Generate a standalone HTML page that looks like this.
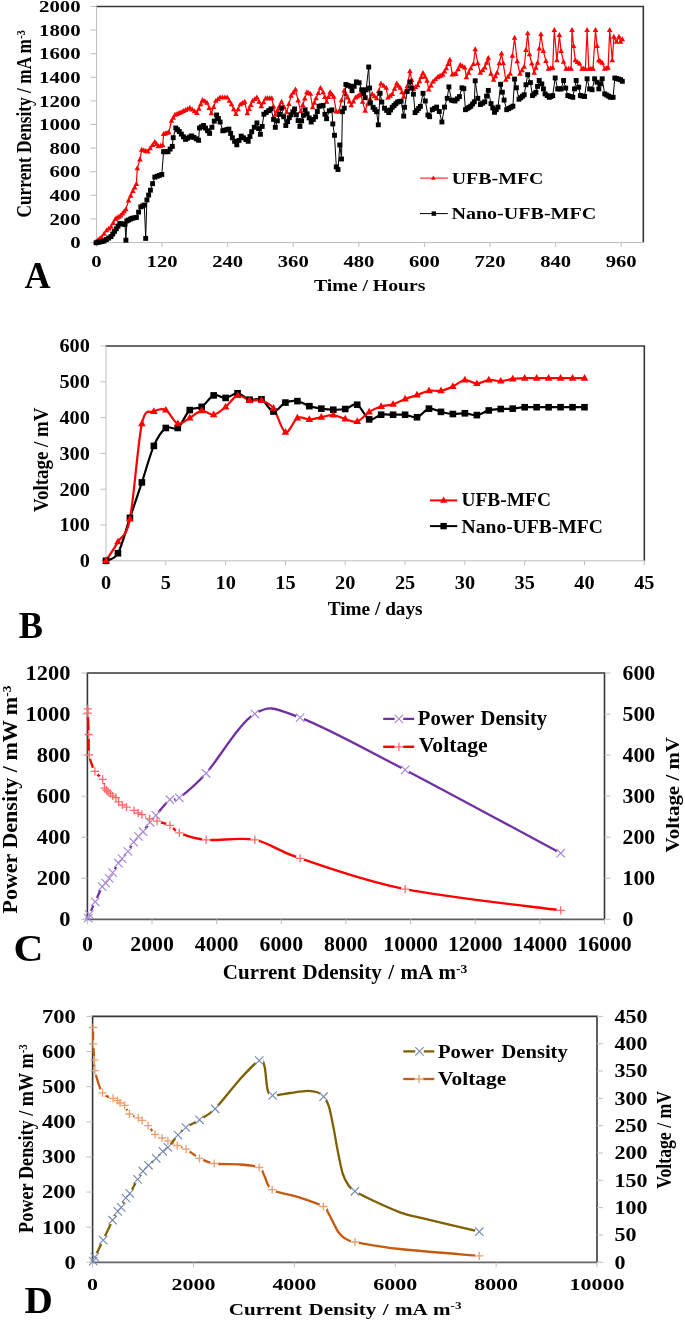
<!DOCTYPE html>
<html><head><meta charset="utf-8"><title>Figure</title>
<style>html,body{margin:0;padding:0;background:#fff;}svg{display:block;}text{font-family:'Liberation Serif', 'Times New Roman', serif;font-weight:bold;}</style>
</head><body>
<svg width="685" height="1320" viewBox="0 0 685 1320">
<defs><mask id="mPC" maskUnits="userSpaceOnUse" x="0" y="0" width="685" height="1320"><rect width="685" height="1320" fill="#fff"/><circle cx="88.2" cy="918.1" r="4.2" fill="#000"/><circle cx="89.3" cy="914.6" r="4.2" fill="#000"/><circle cx="95.2" cy="901.8" r="4.2" fill="#000"/><circle cx="102.2" cy="886.6" r="4.2" fill="#000"/><circle cx="105.7" cy="883.1" r="4.2" fill="#000"/><circle cx="109.2" cy="878.4" r="4.2" fill="#000"/><circle cx="112.7" cy="872.6" r="4.2" fill="#000"/><circle cx="118.5" cy="863.2" r="4.2" fill="#000"/><circle cx="122" cy="858.6" r="4.2" fill="#000"/><circle cx="127.9" cy="851.5" r="4.2" fill="#000"/><circle cx="133.7" cy="842.2" r="4.2" fill="#000"/><circle cx="138.4" cy="836.4" r="4.2" fill="#000"/><circle cx="143.1" cy="831.7" r="4.2" fill="#000"/><circle cx="150.1" cy="822.3" r="4.2" fill="#000"/><circle cx="155.9" cy="815.3" r="4.2" fill="#000"/><circle cx="169.9" cy="799.7" r="4.2" fill="#000"/><circle cx="179.3" cy="797.8" r="4.2" fill="#000"/><circle cx="206.1" cy="773.3" r="4.2" fill="#000"/><circle cx="254.8" cy="713.8" r="4.2" fill="#000"/><circle cx="300.1" cy="717.6" r="4.2" fill="#000"/><circle cx="405.2" cy="769.9" r="4.2" fill="#000"/><circle cx="560.7" cy="853.2" r="4.2" fill="#000"/></mask><mask id="mRC" maskUnits="userSpaceOnUse" x="0" y="0" width="685" height="1320"><rect width="685" height="1320" fill="#fff"/><circle cx="87.8" cy="708.9" r="4.2" fill="#000"/><circle cx="87.8" cy="713.1" r="4.2" fill="#000"/><circle cx="88.6" cy="734.5" r="4.2" fill="#000"/><circle cx="89.2" cy="754.9" r="4.2" fill="#000"/><circle cx="94.9" cy="771.4" r="4.2" fill="#000"/><circle cx="102.7" cy="779.3" r="4.2" fill="#000"/><circle cx="104.5" cy="788.1" r="4.2" fill="#000"/><circle cx="106.4" cy="790.2" r="4.2" fill="#000"/><circle cx="108" cy="791.8" r="4.2" fill="#000"/><circle cx="110.4" cy="793.7" r="4.2" fill="#000"/><circle cx="112.7" cy="796" r="4.2" fill="#000"/><circle cx="115.9" cy="797.6" r="4.2" fill="#000"/><circle cx="118.6" cy="801.8" r="4.2" fill="#000"/><circle cx="122.3" cy="805" r="4.2" fill="#000"/><circle cx="126.5" cy="807.1" r="4.2" fill="#000"/><circle cx="134" cy="810.3" r="4.2" fill="#000"/><circle cx="138.2" cy="813" r="4.2" fill="#000"/><circle cx="141.9" cy="814.6" r="4.2" fill="#000"/><circle cx="149.6" cy="818.8" r="4.2" fill="#000"/><circle cx="157.1" cy="821.2" r="4.2" fill="#000"/><circle cx="169.9" cy="825.4" r="4.2" fill="#000"/><circle cx="179.3" cy="832.9" r="4.2" fill="#000"/><circle cx="206.1" cy="839.9" r="4.2" fill="#000"/><circle cx="254.8" cy="839.9" r="4.2" fill="#000"/><circle cx="300.1" cy="858.3" r="4.2" fill="#000"/><circle cx="405.2" cy="889.1" r="4.2" fill="#000"/><circle cx="560.7" cy="910.3" r="4.2" fill="#000"/></mask><mask id="mPD" maskUnits="userSpaceOnUse" x="0" y="0" width="685" height="1320"><rect width="685" height="1320" fill="#fff"/><circle cx="93.2" cy="1261.1" r="4.4" fill="#000"/><circle cx="94.8" cy="1257.1" r="4.4" fill="#000"/><circle cx="103.2" cy="1240.1" r="4.4" fill="#000"/><circle cx="112.6" cy="1220.2" r="4.4" fill="#000"/><circle cx="117.7" cy="1211.4" r="4.4" fill="#000"/><circle cx="121.2" cy="1207.4" r="4.4" fill="#000"/><circle cx="125.9" cy="1198" r="4.4" fill="#000"/><circle cx="129.8" cy="1193.4" r="4.4" fill="#000"/><circle cx="137.6" cy="1179.4" r="4.4" fill="#000"/><circle cx="142.9" cy="1171.2" r="4.4" fill="#000"/><circle cx="148.5" cy="1165.3" r="4.4" fill="#000"/><circle cx="156.2" cy="1158.3" r="4.4" fill="#000"/><circle cx="162.8" cy="1151.3" r="4.4" fill="#000"/><circle cx="167.9" cy="1147.4" r="4.4" fill="#000"/><circle cx="178" cy="1135" r="4.4" fill="#000"/><circle cx="185.9" cy="1127.5" r="4.4" fill="#000"/><circle cx="199.5" cy="1119.8" r="4.4" fill="#000"/><circle cx="215.1" cy="1108.8" r="4.4" fill="#000"/><circle cx="259.2" cy="1060.5" r="4.4" fill="#000"/><circle cx="272.7" cy="1095.5" r="4.4" fill="#000"/><circle cx="323.6" cy="1096.7" r="4.4" fill="#000"/><circle cx="354.9" cy="1191.3" r="4.4" fill="#000"/><circle cx="479.3" cy="1231.7" r="4.4" fill="#000"/></mask><mask id="mVD" maskUnits="userSpaceOnUse" x="0" y="0" width="685" height="1320"><rect width="685" height="1320" fill="#fff"/><circle cx="93.2" cy="1027.5" r="4.2" fill="#000"/><circle cx="93.2" cy="1043.9" r="4.2" fill="#000"/><circle cx="94.3" cy="1060.2" r="4.2" fill="#000"/><circle cx="94.8" cy="1070.7" r="4.2" fill="#000"/><circle cx="102.5" cy="1092.9" r="4.2" fill="#000"/><circle cx="113" cy="1098.3" r="4.2" fill="#000"/><circle cx="117.7" cy="1100.6" r="4.2" fill="#000"/><circle cx="120" cy="1103" r="4.2" fill="#000"/><circle cx="124.7" cy="1105.3" r="4.2" fill="#000"/><circle cx="129.4" cy="1114" r="4.2" fill="#000"/><circle cx="138.3" cy="1117.9" r="4.2" fill="#000"/><circle cx="142.2" cy="1120.3" r="4.2" fill="#000"/><circle cx="148.1" cy="1125.6" r="4.2" fill="#000"/><circle cx="155.1" cy="1134.3" r="4.2" fill="#000"/><circle cx="162.1" cy="1138" r="4.2" fill="#000"/><circle cx="167.9" cy="1140.8" r="4.2" fill="#000"/><circle cx="177.3" cy="1145.5" r="4.2" fill="#000"/><circle cx="186.1" cy="1149.2" r="4.2" fill="#000"/><circle cx="199.5" cy="1158.3" r="4.2" fill="#000"/><circle cx="214.2" cy="1163.5" r="4.2" fill="#000"/><circle cx="259.2" cy="1167.5" r="4.2" fill="#000"/><circle cx="272.2" cy="1189.7" r="4.2" fill="#000"/><circle cx="323.4" cy="1206.5" r="4.2" fill="#000"/><circle cx="354.9" cy="1242" r="4.2" fill="#000"/><circle cx="479.3" cy="1255.8" r="4.2" fill="#000"/></mask></defs>
<rect width="685" height="1320" fill="#fff"/>
<line x1="96" y1="6.5" x2="644.1" y2="6.5" stroke="#383838" stroke-width="1.6"/>
<line x1="643.3" y1="6.5" x2="643.3" y2="242.5" stroke="#383838" stroke-width="1.6"/>
<line x1="96.5" y1="6.5" x2="96.5" y2="242.5" stroke="#BFBFBF" stroke-width="1"/>
<line x1="96.5" y1="242.5" x2="643.3" y2="242.5" stroke="#BFBFBF" stroke-width="1"/>
<line x1="90.5" y1="242.5" x2="96.5" y2="242.5" stroke="#BFBFBF" stroke-width="1"/>
<text transform="translate(80.6,248.1) scale(1.2900,1)" font-size="16.1" text-anchor="end" fill="#000">0</text>
<line x1="90.5" y1="218.9" x2="96.5" y2="218.9" stroke="#BFBFBF" stroke-width="1"/>
<text transform="translate(80.6,224.5) scale(1.2900,1)" font-size="16.1" text-anchor="end" fill="#000">200</text>
<line x1="90.5" y1="195.3" x2="96.5" y2="195.3" stroke="#BFBFBF" stroke-width="1"/>
<text transform="translate(80.6,200.9) scale(1.2900,1)" font-size="16.1" text-anchor="end" fill="#000">400</text>
<line x1="90.5" y1="171.7" x2="96.5" y2="171.7" stroke="#BFBFBF" stroke-width="1"/>
<text transform="translate(80.6,177.3) scale(1.2900,1)" font-size="16.1" text-anchor="end" fill="#000">600</text>
<line x1="90.5" y1="148.1" x2="96.5" y2="148.1" stroke="#BFBFBF" stroke-width="1"/>
<text transform="translate(80.6,153.7) scale(1.2900,1)" font-size="16.1" text-anchor="end" fill="#000">800</text>
<line x1="90.5" y1="124.5" x2="96.5" y2="124.5" stroke="#BFBFBF" stroke-width="1"/>
<text transform="translate(80.6,130.1) scale(1.2900,1)" font-size="16.1" text-anchor="end" fill="#000">1000</text>
<line x1="90.5" y1="100.9" x2="96.5" y2="100.9" stroke="#BFBFBF" stroke-width="1"/>
<text transform="translate(80.6,106.5) scale(1.2900,1)" font-size="16.1" text-anchor="end" fill="#000">1200</text>
<line x1="90.5" y1="77.3" x2="96.5" y2="77.3" stroke="#BFBFBF" stroke-width="1"/>
<text transform="translate(80.6,82.9) scale(1.2900,1)" font-size="16.1" text-anchor="end" fill="#000">1400</text>
<line x1="90.5" y1="53.7" x2="96.5" y2="53.7" stroke="#BFBFBF" stroke-width="1"/>
<text transform="translate(80.6,59.3) scale(1.2900,1)" font-size="16.1" text-anchor="end" fill="#000">1600</text>
<line x1="90.5" y1="30.1" x2="96.5" y2="30.1" stroke="#BFBFBF" stroke-width="1"/>
<text transform="translate(80.6,35.7) scale(1.2900,1)" font-size="16.1" text-anchor="end" fill="#000">1800</text>
<line x1="90.5" y1="6.5" x2="96.5" y2="6.5" stroke="#BFBFBF" stroke-width="1"/>
<text transform="translate(80.6,12.1) scale(1.2900,1)" font-size="16.1" text-anchor="end" fill="#000">2000</text>
<line x1="96.5" y1="242.5" x2="96.5" y2="247" stroke="#BFBFBF" stroke-width="1"/>
<text transform="translate(96.5,267.4) scale(1.2900,1)" font-size="16" text-anchor="middle" fill="#000">0</text>
<line x1="162.09" y1="242.5" x2="162.09" y2="247" stroke="#BFBFBF" stroke-width="1"/>
<text transform="translate(162.09,267.4) scale(1.2900,1)" font-size="16" text-anchor="middle" fill="#000">120</text>
<line x1="227.68" y1="242.5" x2="227.68" y2="247" stroke="#BFBFBF" stroke-width="1"/>
<text transform="translate(227.68,267.4) scale(1.2900,1)" font-size="16" text-anchor="middle" fill="#000">240</text>
<line x1="293.27" y1="242.5" x2="293.27" y2="247" stroke="#BFBFBF" stroke-width="1"/>
<text transform="translate(293.27,267.4) scale(1.2900,1)" font-size="16" text-anchor="middle" fill="#000">360</text>
<line x1="358.86" y1="242.5" x2="358.86" y2="247" stroke="#BFBFBF" stroke-width="1"/>
<text transform="translate(358.86,267.4) scale(1.2900,1)" font-size="16" text-anchor="middle" fill="#000">480</text>
<line x1="424.45" y1="242.5" x2="424.45" y2="247" stroke="#BFBFBF" stroke-width="1"/>
<text transform="translate(424.45,267.4) scale(1.2900,1)" font-size="16" text-anchor="middle" fill="#000">600</text>
<line x1="490.04" y1="242.5" x2="490.04" y2="247" stroke="#BFBFBF" stroke-width="1"/>
<text transform="translate(490.04,267.4) scale(1.2900,1)" font-size="16" text-anchor="middle" fill="#000">720</text>
<line x1="555.63" y1="242.5" x2="555.63" y2="247" stroke="#BFBFBF" stroke-width="1"/>
<text transform="translate(555.63,267.4) scale(1.2900,1)" font-size="16" text-anchor="middle" fill="#000">840</text>
<line x1="621.22" y1="242.5" x2="621.22" y2="247" stroke="#BFBFBF" stroke-width="1"/>
<text transform="translate(621.22,267.4) scale(1.2900,1)" font-size="16" text-anchor="middle" fill="#000">960</text>
<text transform="translate(314,291.2) scale(1.1410,1)" font-size="17.3" text-anchor="start" fill="#000">Time / Hours</text>
<text transform="translate(30.8,217.5) rotate(-90) scale(0.8400,1)" font-size="20.6" text-anchor="start" fill="#000">Current Density / mA m<tspan font-size="12.6" dy="-6.2">-3</tspan></text>
<text transform="translate(24.5,287.7) scale(0.9700,1)" font-size="37.2" text-anchor="start" fill="#000">A</text>
<polyline points="96.1,241.9 101.4,237.5 106.6,230.5 111,227 115.4,219.1 120.7,215.6 125.9,209.5 128.5,200.7 132.9,191.1 136.4,184.1 137.3,168.3 139.9,159.6 141.7,149.9 147.8,151.7 154.8,142 158.3,146.4 162.7,145.5 163.6,134.2 168.8,132.4 171.5,121 175,114.9 181.1,112.3 189.9,107.9 196.9,113.1 202.6,100.1 207,102.8 211.4,113.3 215.8,101 220.1,97.5 227.2,97.5 231.5,104.5 235.9,114.2 240.3,104.5 244.7,101.9 247.3,113.3 252.6,101 256.9,97.5 261.3,106.3 265.7,98.4 271.8,98.4 275.3,115 281.5,101.9 286.7,112.4 291.1,95.8 295.5,89.6 300.7,111.5 306.9,92.3 310.4,94 312.6,107.3 316.1,98.5 320.5,88 323.1,92.4 326.6,102 330.1,92.4 333.7,96.8 336.3,111.7 338.9,111.7 341.5,100.3 344.2,90.7 347.7,97.7 351.2,105.5 355.5,97.7 360.8,94.2 362.6,102 365.2,110.8 367.8,103.8 372.2,94.2 376.6,98.5 381,83.7 386.2,88 388,97.7 392.3,94.2 396.7,83.7 400.2,88 403.7,96.8 407.2,86.3 409.9,71.4 413.4,88.9 417.7,85.4 423,73.1 427,80.8 428.8,89.6 433.1,81.7 437.5,77.3 442.8,74.7 446.3,68.5 449.8,59.8 452.4,74.7 455.9,73.8 460.3,65 464.7,67.7 466.4,77.3 470.8,68.5 473.4,64.2 475.2,49.3 477.8,63.3 480.4,72.9 484.8,67.7 488.3,58 491,73.8 493.6,79.9 497.1,72.9 501.5,53.7 503.2,63.3 505.8,79.9 510.2,73.8 514.6,37.9 517.2,61.5 519.9,73.8 524.2,66.8 527.7,33.5 529.5,54.5 534.2,73 537.6,62.9 540.9,34.3 543.4,51.1 545.9,61.2 548.5,68.8 552.7,67.9 554.3,30.1 556.9,60.4 559.4,35.2 561.1,51.1 563.6,62 566.1,68.8 571.1,68.8 572,30.1 573.6,46.1 575.3,60.4 579.5,63.7 582,68.8 585.4,68.8 587.1,30.1 588.8,68.8 593,68.8 595.5,30.1 597.1,46.1 598.8,60.4 602.2,62.9 604.7,68.8 608.1,67.9 609.7,30.1 612.3,60.4 613.9,36.9 616.5,41.9 619,36.9 620.6,41.9 622.3,39.4" fill="none" stroke="#FF0000" stroke-width="1.2" stroke-linejoin="round"/>
<path d="M96.1,238.8 L98.89,243.76 L93.31,243.76Z" fill="#FF0000"/>
<path d="M97.87,237.33 L100.66,242.29 L95.08,242.29Z" fill="#FF0000"/>
<path d="M99.63,235.87 L102.42,240.83 L96.84,240.83Z" fill="#FF0000"/>
<path d="M101.4,234.4 L104.19,239.36 L98.61,239.36Z" fill="#FF0000"/>
<path d="M104,230.9 L106.79,235.86 L101.21,235.86Z" fill="#FF0000"/>
<path d="M106.6,227.4 L109.39,232.36 L103.81,232.36Z" fill="#FF0000"/>
<path d="M108.8,225.65 L111.59,230.61 L106.01,230.61Z" fill="#FF0000"/>
<path d="M111,223.9 L113.79,228.86 L108.21,228.86Z" fill="#FF0000"/>
<path d="M113.2,219.95 L115.99,224.91 L110.41,224.91Z" fill="#FF0000"/>
<path d="M115.4,216 L118.19,220.96 L112.61,220.96Z" fill="#FF0000"/>
<path d="M117.17,214.83 L119.96,219.79 L114.38,219.79Z" fill="#FF0000"/>
<path d="M118.93,213.67 L121.72,218.63 L116.14,218.63Z" fill="#FF0000"/>
<path d="M120.7,212.5 L123.49,217.46 L117.91,217.46Z" fill="#FF0000"/>
<path d="M122.43,210.47 L125.22,215.43 L119.64,215.43Z" fill="#FF0000"/>
<path d="M124.17,208.43 L126.96,213.39 L121.38,213.39Z" fill="#FF0000"/>
<path d="M125.9,206.4 L128.69,211.36 L123.11,211.36Z" fill="#FF0000"/>
<path d="M128.5,197.6 L131.29,202.56 L125.71,202.56Z" fill="#FF0000"/>
<path d="M130.7,192.8 L133.49,197.76 L127.91,197.76Z" fill="#FF0000"/>
<path d="M132.9,188 L135.69,192.96 L130.11,192.96Z" fill="#FF0000"/>
<path d="M134.65,184.5 L137.44,189.46 L131.86,189.46Z" fill="#FF0000"/>
<path d="M136.4,181 L139.19,185.96 L133.61,185.96Z" fill="#FF0000"/>
<path d="M137.3,165.2 L140.09,170.16 L134.51,170.16Z" fill="#FF0000"/>
<path d="M139.9,156.5 L142.69,161.46 L137.11,161.46Z" fill="#FF0000"/>
<path d="M141.7,146.8 L144.49,151.76 L138.91,151.76Z" fill="#FF0000"/>
<path d="M143.73,147.4 L146.52,152.36 L140.94,152.36Z" fill="#FF0000"/>
<path d="M145.77,148 L148.56,152.96 L142.98,152.96Z" fill="#FF0000"/>
<path d="M147.8,148.6 L150.59,153.56 L145.01,153.56Z" fill="#FF0000"/>
<path d="M150.13,145.37 L152.92,150.33 L147.34,150.33Z" fill="#FF0000"/>
<path d="M152.47,142.13 L155.26,147.09 L149.68,147.09Z" fill="#FF0000"/>
<path d="M154.8,138.9 L157.59,143.86 L152.01,143.86Z" fill="#FF0000"/>
<path d="M156.55,141.1 L159.34,146.06 L153.76,146.06Z" fill="#FF0000"/>
<path d="M158.3,143.3 L161.09,148.26 L155.51,148.26Z" fill="#FF0000"/>
<path d="M160.5,142.85 L163.29,147.81 L157.71,147.81Z" fill="#FF0000"/>
<path d="M162.7,142.4 L165.49,147.36 L159.91,147.36Z" fill="#FF0000"/>
<path d="M163.6,131.1 L166.39,136.06 L160.81,136.06Z" fill="#FF0000"/>
<path d="M165.33,130.5 L168.12,135.46 L162.54,135.46Z" fill="#FF0000"/>
<path d="M167.07,129.9 L169.86,134.86 L164.28,134.86Z" fill="#FF0000"/>
<path d="M168.8,129.3 L171.59,134.26 L166.01,134.26Z" fill="#FF0000"/>
<path d="M171.5,117.9 L174.29,122.86 L168.71,122.86Z" fill="#FF0000"/>
<path d="M173.25,114.85 L176.04,119.81 L170.46,119.81Z" fill="#FF0000"/>
<path d="M175,111.8 L177.79,116.76 L172.21,116.76Z" fill="#FF0000"/>
<path d="M177.03,110.93 L179.82,115.89 L174.24,115.89Z" fill="#FF0000"/>
<path d="M179.07,110.07 L181.86,115.03 L176.28,115.03Z" fill="#FF0000"/>
<path d="M181.1,109.2 L183.89,114.16 L178.31,114.16Z" fill="#FF0000"/>
<path d="M183.3,108.1 L186.09,113.06 L180.51,113.06Z" fill="#FF0000"/>
<path d="M185.5,107 L188.29,111.96 L182.71,111.96Z" fill="#FF0000"/>
<path d="M187.7,105.9 L190.49,110.86 L184.91,110.86Z" fill="#FF0000"/>
<path d="M189.9,104.8 L192.69,109.76 L187.11,109.76Z" fill="#FF0000"/>
<path d="M192.23,106.53 L195.02,111.49 L189.44,111.49Z" fill="#FF0000"/>
<path d="M194.57,108.27 L197.36,113.23 L191.78,113.23Z" fill="#FF0000"/>
<path d="M196.9,110 L199.69,114.96 L194.11,114.96Z" fill="#FF0000"/>
<path d="M198.8,105.67 L201.59,110.63 L196.01,110.63Z" fill="#FF0000"/>
<path d="M200.7,101.33 L203.49,106.29 L197.91,106.29Z" fill="#FF0000"/>
<path d="M202.6,97 L205.39,101.96 L199.81,101.96Z" fill="#FF0000"/>
<path d="M204.8,98.35 L207.59,103.31 L202.01,103.31Z" fill="#FF0000"/>
<path d="M207,99.7 L209.79,104.66 L204.21,104.66Z" fill="#FF0000"/>
<path d="M209.2,104.95 L211.99,109.91 L206.41,109.91Z" fill="#FF0000"/>
<path d="M211.4,110.2 L214.19,115.16 L208.61,115.16Z" fill="#FF0000"/>
<path d="M213.6,104.05 L216.39,109.01 L210.81,109.01Z" fill="#FF0000"/>
<path d="M215.8,97.9 L218.59,102.86 L213.01,102.86Z" fill="#FF0000"/>
<path d="M217.95,96.15 L220.74,101.11 L215.16,101.11Z" fill="#FF0000"/>
<path d="M220.1,94.4 L222.89,99.36 L217.31,99.36Z" fill="#FF0000"/>
<path d="M222.47,94.4 L225.26,99.36 L219.68,99.36Z" fill="#FF0000"/>
<path d="M224.83,94.4 L227.62,99.36 L222.04,99.36Z" fill="#FF0000"/>
<path d="M227.2,94.4 L229.99,99.36 L224.41,99.36Z" fill="#FF0000"/>
<path d="M229.35,97.9 L232.14,102.86 L226.56,102.86Z" fill="#FF0000"/>
<path d="M231.5,101.4 L234.29,106.36 L228.71,106.36Z" fill="#FF0000"/>
<path d="M233.7,106.25 L236.49,111.21 L230.91,111.21Z" fill="#FF0000"/>
<path d="M235.9,111.1 L238.69,116.06 L233.11,116.06Z" fill="#FF0000"/>
<path d="M238.1,106.25 L240.89,111.21 L235.31,111.21Z" fill="#FF0000"/>
<path d="M240.3,101.4 L243.09,106.36 L237.51,106.36Z" fill="#FF0000"/>
<path d="M242.5,100.1 L245.29,105.06 L239.71,105.06Z" fill="#FF0000"/>
<path d="M244.7,98.8 L247.49,103.76 L241.91,103.76Z" fill="#FF0000"/>
<path d="M247.3,110.2 L250.09,115.16 L244.51,115.16Z" fill="#FF0000"/>
<path d="M249.07,106.1 L251.86,111.06 L246.28,111.06Z" fill="#FF0000"/>
<path d="M250.83,102 L253.62,106.96 L248.04,106.96Z" fill="#FF0000"/>
<path d="M252.6,97.9 L255.39,102.86 L249.81,102.86Z" fill="#FF0000"/>
<path d="M254.75,96.15 L257.54,101.11 L251.96,101.11Z" fill="#FF0000"/>
<path d="M256.9,94.4 L259.69,99.36 L254.11,99.36Z" fill="#FF0000"/>
<path d="M259.1,98.8 L261.89,103.76 L256.31,103.76Z" fill="#FF0000"/>
<path d="M261.3,103.2 L264.09,108.16 L258.51,108.16Z" fill="#FF0000"/>
<path d="M263.5,99.25 L266.29,104.21 L260.71,104.21Z" fill="#FF0000"/>
<path d="M265.7,95.3 L268.49,100.26 L262.91,100.26Z" fill="#FF0000"/>
<path d="M267.73,95.3 L270.52,100.26 L264.94,100.26Z" fill="#FF0000"/>
<path d="M269.77,95.3 L272.56,100.26 L266.98,100.26Z" fill="#FF0000"/>
<path d="M271.8,95.3 L274.59,100.26 L269.01,100.26Z" fill="#FF0000"/>
<path d="M273.55,103.6 L276.34,108.56 L270.76,108.56Z" fill="#FF0000"/>
<path d="M275.3,111.9 L278.09,116.86 L272.51,116.86Z" fill="#FF0000"/>
<path d="M277.37,107.53 L280.16,112.49 L274.58,112.49Z" fill="#FF0000"/>
<path d="M279.43,103.17 L282.22,108.13 L276.64,108.13Z" fill="#FF0000"/>
<path d="M281.5,98.8 L284.29,103.76 L278.71,103.76Z" fill="#FF0000"/>
<path d="M284.1,104.05 L286.89,109.01 L281.31,109.01Z" fill="#FF0000"/>
<path d="M286.7,109.3 L289.49,114.26 L283.91,114.26Z" fill="#FF0000"/>
<path d="M288.9,101 L291.69,105.96 L286.11,105.96Z" fill="#FF0000"/>
<path d="M291.1,92.7 L293.89,97.66 L288.31,97.66Z" fill="#FF0000"/>
<path d="M293.3,89.6 L296.09,94.56 L290.51,94.56Z" fill="#FF0000"/>
<path d="M295.5,86.5 L298.29,91.46 L292.71,91.46Z" fill="#FF0000"/>
<path d="M298.1,97.45 L300.89,102.41 L295.31,102.41Z" fill="#FF0000"/>
<path d="M300.7,108.4 L303.49,113.36 L297.91,113.36Z" fill="#FF0000"/>
<path d="M302.77,102 L305.56,106.96 L299.98,106.96Z" fill="#FF0000"/>
<path d="M304.83,95.6 L307.62,100.56 L302.04,100.56Z" fill="#FF0000"/>
<path d="M306.9,89.2 L309.69,94.16 L304.11,94.16Z" fill="#FF0000"/>
<path d="M308.65,90.05 L311.44,95.01 L305.86,95.01Z" fill="#FF0000"/>
<path d="M310.4,90.9 L313.19,95.86 L307.61,95.86Z" fill="#FF0000"/>
<path d="M312.6,104.2 L315.39,109.16 L309.81,109.16Z" fill="#FF0000"/>
<path d="M314.35,99.8 L317.14,104.76 L311.56,104.76Z" fill="#FF0000"/>
<path d="M316.1,95.4 L318.89,100.36 L313.31,100.36Z" fill="#FF0000"/>
<path d="M318.3,90.15 L321.09,95.11 L315.51,95.11Z" fill="#FF0000"/>
<path d="M320.5,84.9 L323.29,89.86 L317.71,89.86Z" fill="#FF0000"/>
<path d="M323.1,89.3 L325.89,94.26 L320.31,94.26Z" fill="#FF0000"/>
<path d="M324.85,94.1 L327.64,99.06 L322.06,99.06Z" fill="#FF0000"/>
<path d="M326.6,98.9 L329.39,103.86 L323.81,103.86Z" fill="#FF0000"/>
<path d="M328.35,94.1 L331.14,99.06 L325.56,99.06Z" fill="#FF0000"/>
<path d="M330.1,89.3 L332.89,94.26 L327.31,94.26Z" fill="#FF0000"/>
<path d="M331.9,91.5 L334.69,96.46 L329.11,96.46Z" fill="#FF0000"/>
<path d="M333.7,93.7 L336.49,98.66 L330.91,98.66Z" fill="#FF0000"/>
<path d="M336.3,108.6 L339.09,113.56 L333.51,113.56Z" fill="#FF0000"/>
<path d="M338.9,108.6 L341.69,113.56 L336.11,113.56Z" fill="#FF0000"/>
<path d="M341.5,97.2 L344.29,102.16 L338.71,102.16Z" fill="#FF0000"/>
<path d="M344.2,87.6 L346.99,92.56 L341.41,92.56Z" fill="#FF0000"/>
<path d="M345.95,91.1 L348.74,96.06 L343.16,96.06Z" fill="#FF0000"/>
<path d="M347.7,94.6 L350.49,99.56 L344.91,99.56Z" fill="#FF0000"/>
<path d="M349.45,98.5 L352.24,103.46 L346.66,103.46Z" fill="#FF0000"/>
<path d="M351.2,102.4 L353.99,107.36 L348.41,107.36Z" fill="#FF0000"/>
<path d="M353.35,98.5 L356.14,103.46 L350.56,103.46Z" fill="#FF0000"/>
<path d="M355.5,94.6 L358.29,99.56 L352.71,99.56Z" fill="#FF0000"/>
<path d="M357.27,93.43 L360.06,98.39 L354.48,98.39Z" fill="#FF0000"/>
<path d="M359.03,92.27 L361.82,97.23 L356.24,97.23Z" fill="#FF0000"/>
<path d="M360.8,91.1 L363.59,96.06 L358.01,96.06Z" fill="#FF0000"/>
<path d="M362.6,98.9 L365.39,103.86 L359.81,103.86Z" fill="#FF0000"/>
<path d="M365.2,107.7 L367.99,112.66 L362.41,112.66Z" fill="#FF0000"/>
<path d="M367.8,100.7 L370.59,105.66 L365.01,105.66Z" fill="#FF0000"/>
<path d="M370,95.9 L372.79,100.86 L367.21,100.86Z" fill="#FF0000"/>
<path d="M372.2,91.1 L374.99,96.06 L369.41,96.06Z" fill="#FF0000"/>
<path d="M374.4,93.25 L377.19,98.21 L371.61,98.21Z" fill="#FF0000"/>
<path d="M376.6,95.4 L379.39,100.36 L373.81,100.36Z" fill="#FF0000"/>
<path d="M378.8,88 L381.59,92.96 L376.01,92.96Z" fill="#FF0000"/>
<path d="M381,80.6 L383.79,85.56 L378.21,85.56Z" fill="#FF0000"/>
<path d="M383.6,82.75 L386.39,87.71 L380.81,87.71Z" fill="#FF0000"/>
<path d="M386.2,84.9 L388.99,89.86 L383.41,89.86Z" fill="#FF0000"/>
<path d="M388,94.6 L390.79,99.56 L385.21,99.56Z" fill="#FF0000"/>
<path d="M390.15,92.85 L392.94,97.81 L387.36,97.81Z" fill="#FF0000"/>
<path d="M392.3,91.1 L395.09,96.06 L389.51,96.06Z" fill="#FF0000"/>
<path d="M394.5,85.85 L397.29,90.81 L391.71,90.81Z" fill="#FF0000"/>
<path d="M396.7,80.6 L399.49,85.56 L393.91,85.56Z" fill="#FF0000"/>
<path d="M398.45,82.75 L401.24,87.71 L395.66,87.71Z" fill="#FF0000"/>
<path d="M400.2,84.9 L402.99,89.86 L397.41,89.86Z" fill="#FF0000"/>
<path d="M401.95,89.3 L404.74,94.26 L399.16,94.26Z" fill="#FF0000"/>
<path d="M403.7,93.7 L406.49,98.66 L400.91,98.66Z" fill="#FF0000"/>
<path d="M405.45,88.45 L408.24,93.41 L402.66,93.41Z" fill="#FF0000"/>
<path d="M407.2,83.2 L409.99,88.16 L404.41,88.16Z" fill="#FF0000"/>
<path d="M409.9,68.3 L412.69,73.26 L407.11,73.26Z" fill="#FF0000"/>
<path d="M411.65,77.05 L414.44,82.01 L408.86,82.01Z" fill="#FF0000"/>
<path d="M413.4,85.8 L416.19,90.76 L410.61,90.76Z" fill="#FF0000"/>
<path d="M415.55,84.05 L418.34,89.01 L412.76,89.01Z" fill="#FF0000"/>
<path d="M417.7,82.3 L420.49,87.26 L414.91,87.26Z" fill="#FF0000"/>
<path d="M419.47,78.2 L422.26,83.16 L416.68,83.16Z" fill="#FF0000"/>
<path d="M421.23,74.1 L424.02,79.06 L418.44,79.06Z" fill="#FF0000"/>
<path d="M423,70 L425.79,74.96 L420.21,74.96Z" fill="#FF0000"/>
<path d="M425,73.85 L427.79,78.81 L422.21,78.81Z" fill="#FF0000"/>
<path d="M427,77.7 L429.79,82.66 L424.21,82.66Z" fill="#FF0000"/>
<path d="M428.8,86.5 L431.59,91.46 L426.01,91.46Z" fill="#FF0000"/>
<path d="M430.95,82.55 L433.74,87.51 L428.16,87.51Z" fill="#FF0000"/>
<path d="M433.1,78.6 L435.89,83.56 L430.31,83.56Z" fill="#FF0000"/>
<path d="M435.3,76.4 L438.09,81.36 L432.51,81.36Z" fill="#FF0000"/>
<path d="M437.5,74.2 L440.29,79.16 L434.71,79.16Z" fill="#FF0000"/>
<path d="M439.27,73.33 L442.06,78.29 L436.48,78.29Z" fill="#FF0000"/>
<path d="M441.03,72.47 L443.82,77.43 L438.24,77.43Z" fill="#FF0000"/>
<path d="M442.8,71.6 L445.59,76.56 L440.01,76.56Z" fill="#FF0000"/>
<path d="M444.55,68.5 L447.34,73.46 L441.76,73.46Z" fill="#FF0000"/>
<path d="M446.3,65.4 L449.09,70.36 L443.51,70.36Z" fill="#FF0000"/>
<path d="M448.05,61.05 L450.84,66.01 L445.26,66.01Z" fill="#FF0000"/>
<path d="M449.8,56.7 L452.59,61.66 L447.01,61.66Z" fill="#FF0000"/>
<path d="M452.4,71.6 L455.19,76.56 L449.61,76.56Z" fill="#FF0000"/>
<path d="M454.15,71.15 L456.94,76.11 L451.36,76.11Z" fill="#FF0000"/>
<path d="M455.9,70.7 L458.69,75.66 L453.11,75.66Z" fill="#FF0000"/>
<path d="M458.1,66.3 L460.89,71.26 L455.31,71.26Z" fill="#FF0000"/>
<path d="M460.3,61.9 L463.09,66.86 L457.51,66.86Z" fill="#FF0000"/>
<path d="M462.5,63.25 L465.29,68.21 L459.71,68.21Z" fill="#FF0000"/>
<path d="M464.7,64.6 L467.49,69.56 L461.91,69.56Z" fill="#FF0000"/>
<path d="M466.4,74.2 L469.19,79.16 L463.61,79.16Z" fill="#FF0000"/>
<path d="M468.6,69.8 L471.39,74.76 L465.81,74.76Z" fill="#FF0000"/>
<path d="M470.8,65.4 L473.59,70.36 L468.01,70.36Z" fill="#FF0000"/>
<path d="M473.4,61.1 L476.19,66.06 L470.61,66.06Z" fill="#FF0000"/>
<path d="M475.2,46.2 L477.99,51.16 L472.41,51.16Z" fill="#FF0000"/>
<path d="M477.8,60.2 L480.59,65.16 L475.01,65.16Z" fill="#FF0000"/>
<path d="M480.4,69.8 L483.19,74.76 L477.61,74.76Z" fill="#FF0000"/>
<path d="M482.6,67.2 L485.39,72.16 L479.81,72.16Z" fill="#FF0000"/>
<path d="M484.8,64.6 L487.59,69.56 L482.01,69.56Z" fill="#FF0000"/>
<path d="M486.55,59.75 L489.34,64.71 L483.76,64.71Z" fill="#FF0000"/>
<path d="M488.3,54.9 L491.09,59.86 L485.51,59.86Z" fill="#FF0000"/>
<path d="M491,70.7 L493.79,75.66 L488.21,75.66Z" fill="#FF0000"/>
<path d="M493.6,76.8 L496.39,81.76 L490.81,81.76Z" fill="#FF0000"/>
<path d="M495.35,73.3 L498.14,78.26 L492.56,78.26Z" fill="#FF0000"/>
<path d="M497.1,69.8 L499.89,74.76 L494.31,74.76Z" fill="#FF0000"/>
<path d="M499.3,60.2 L502.09,65.16 L496.51,65.16Z" fill="#FF0000"/>
<path d="M501.5,50.6 L504.29,55.56 L498.71,55.56Z" fill="#FF0000"/>
<path d="M503.2,60.2 L505.99,65.16 L500.41,65.16Z" fill="#FF0000"/>
<path d="M505.8,76.8 L508.59,81.76 L503.01,81.76Z" fill="#FF0000"/>
<path d="M508,73.75 L510.79,78.71 L505.21,78.71Z" fill="#FF0000"/>
<path d="M510.2,70.7 L512.99,75.66 L507.41,75.66Z" fill="#FF0000"/>
<path d="M512.4,52.75 L515.19,57.71 L509.61,57.71Z" fill="#FF0000"/>
<path d="M514.6,34.8 L517.39,39.76 L511.81,39.76Z" fill="#FF0000"/>
<path d="M517.2,58.4 L519.99,63.36 L514.41,63.36Z" fill="#FF0000"/>
<path d="M519.9,70.7 L522.69,75.66 L517.11,75.66Z" fill="#FF0000"/>
<path d="M522.05,67.2 L524.84,72.16 L519.26,72.16Z" fill="#FF0000"/>
<path d="M524.2,63.7 L526.99,68.66 L521.41,68.66Z" fill="#FF0000"/>
<path d="M525.95,47.05 L528.74,52.01 L523.16,52.01Z" fill="#FF0000"/>
<path d="M527.7,30.4 L530.49,35.36 L524.91,35.36Z" fill="#FF0000"/>
<path d="M529.5,51.4 L532.29,56.36 L526.71,56.36Z" fill="#FF0000"/>
<path d="M531.85,60.65 L534.64,65.61 L529.06,65.61Z" fill="#FF0000"/>
<path d="M534.2,69.9 L536.99,74.86 L531.41,74.86Z" fill="#FF0000"/>
<path d="M535.9,64.85 L538.69,69.81 L533.11,69.81Z" fill="#FF0000"/>
<path d="M537.6,59.8 L540.39,64.76 L534.81,64.76Z" fill="#FF0000"/>
<path d="M539.25,45.5 L542.04,50.46 L536.46,50.46Z" fill="#FF0000"/>
<path d="M540.9,31.2 L543.69,36.16 L538.11,36.16Z" fill="#FF0000"/>
<path d="M543.4,48 L546.19,52.96 L540.61,52.96Z" fill="#FF0000"/>
<path d="M545.9,58.1 L548.69,63.06 L543.11,63.06Z" fill="#FF0000"/>
<path d="M548.5,65.7 L551.29,70.66 L545.71,70.66Z" fill="#FF0000"/>
<path d="M550.6,65.25 L553.39,70.21 L547.81,70.21Z" fill="#FF0000"/>
<path d="M552.7,64.8 L555.49,69.76 L549.91,69.76Z" fill="#FF0000"/>
<path d="M554.3,27 L557.09,31.96 L551.51,31.96Z" fill="#FF0000"/>
<path d="M556.9,57.3 L559.69,62.26 L554.11,62.26Z" fill="#FF0000"/>
<path d="M559.4,32.1 L562.19,37.06 L556.61,37.06Z" fill="#FF0000"/>
<path d="M561.1,48 L563.89,52.96 L558.31,52.96Z" fill="#FF0000"/>
<path d="M563.6,58.9 L566.39,63.86 L560.81,63.86Z" fill="#FF0000"/>
<path d="M566.1,65.7 L568.89,70.66 L563.31,70.66Z" fill="#FF0000"/>
<path d="M568.6,65.7 L571.39,70.66 L565.81,70.66Z" fill="#FF0000"/>
<path d="M571.1,65.7 L573.89,70.66 L568.31,70.66Z" fill="#FF0000"/>
<path d="M572,27 L574.79,31.96 L569.21,31.96Z" fill="#FF0000"/>
<path d="M573.6,43 L576.39,47.96 L570.81,47.96Z" fill="#FF0000"/>
<path d="M575.3,57.3 L578.09,62.26 L572.51,62.26Z" fill="#FF0000"/>
<path d="M577.4,58.95 L580.19,63.91 L574.61,63.91Z" fill="#FF0000"/>
<path d="M579.5,60.6 L582.29,65.56 L576.71,65.56Z" fill="#FF0000"/>
<path d="M582,65.7 L584.79,70.66 L579.21,70.66Z" fill="#FF0000"/>
<path d="M583.7,65.7 L586.49,70.66 L580.91,70.66Z" fill="#FF0000"/>
<path d="M585.4,65.7 L588.19,70.66 L582.61,70.66Z" fill="#FF0000"/>
<path d="M587.1,27 L589.89,31.96 L584.31,31.96Z" fill="#FF0000"/>
<path d="M588.8,65.7 L591.59,70.66 L586.01,70.66Z" fill="#FF0000"/>
<path d="M590.9,65.7 L593.69,70.66 L588.11,70.66Z" fill="#FF0000"/>
<path d="M593,65.7 L595.79,70.66 L590.21,70.66Z" fill="#FF0000"/>
<path d="M595.5,27 L598.29,31.96 L592.71,31.96Z" fill="#FF0000"/>
<path d="M597.1,43 L599.89,47.96 L594.31,47.96Z" fill="#FF0000"/>
<path d="M598.8,57.3 L601.59,62.26 L596.01,62.26Z" fill="#FF0000"/>
<path d="M600.5,58.55 L603.29,63.51 L597.71,63.51Z" fill="#FF0000"/>
<path d="M602.2,59.8 L604.99,64.76 L599.41,64.76Z" fill="#FF0000"/>
<path d="M604.7,65.7 L607.49,70.66 L601.91,70.66Z" fill="#FF0000"/>
<path d="M606.4,65.25 L609.19,70.21 L603.61,70.21Z" fill="#FF0000"/>
<path d="M608.1,64.8 L610.89,69.76 L605.31,69.76Z" fill="#FF0000"/>
<path d="M609.7,27 L612.49,31.96 L606.91,31.96Z" fill="#FF0000"/>
<path d="M612.3,57.3 L615.09,62.26 L609.51,62.26Z" fill="#FF0000"/>
<path d="M613.9,33.8 L616.69,38.76 L611.11,38.76Z" fill="#FF0000"/>
<path d="M616.5,38.8 L619.29,43.76 L613.71,43.76Z" fill="#FF0000"/>
<path d="M619,33.8 L621.79,38.76 L616.21,38.76Z" fill="#FF0000"/>
<path d="M620.6,38.8 L623.39,43.76 L617.81,43.76Z" fill="#FF0000"/>
<path d="M622.3,36.3 L625.09,41.26 L619.51,41.26Z" fill="#FF0000"/>
<polyline points="96.1,242.8 104,241 111,236.6 116.3,228.8 119.8,223.5 125,224.4 125.9,240.2 126.8,220.9 132,218.3 136.4,217.4 140.8,206.9 144.3,205.1 145.7,238.4 146.9,199.9 150.4,190.2 154.8,177.1 161.8,174.5 163.6,151.7 168,151.7 172.3,146.4 173.2,137.7 175.8,128 179.3,131.5 185.5,139.4 191.6,135.9 198.6,140.3 199.5,128 203.5,125.5 209.6,133.4 216.6,115 220.1,122 222.8,130.8 228.9,129.1 232.4,137.8 236.8,144.8 241.2,136.1 248.2,141.3 251.7,131.7 256.9,122.9 260.4,134.3 262.2,126.4 263.9,114.2 271,108.9 273.6,119.4 275.3,127.3 281.5,108 285.8,125.5 289.3,117.7 294.6,108.9 299.9,126.4 305.1,109.8 311.2,122 315.6,116.8 319.1,106.3 323.1,105.5 324.9,114.3 326.6,118.7 329.3,110.8 331.9,109.9 332.8,123.9 334.5,135.3 336.3,166.9 338,169.5 339.8,145 341.5,159 342.4,111.7 344.2,108.2 345.9,84.5 350.3,86.3 352,90.7 356.4,81.9 359.1,82.8 361.7,89.8 365.2,97.7 366.1,89.8 368.7,67 369.6,88 370.4,102.9 373.1,107.3 376.6,111.7 378.3,124.8 380.1,93.3 381.8,102 384.5,108.2 388.8,112.6 392.3,107.3 397.6,102 401.1,101.2 403.7,116.1 404.6,107.3 407.2,91.5 409.9,81.9 413.4,94.2 415.1,112.6 420.4,106.4 423,93.3 425.3,101 427.9,115 429.6,116.7 432.3,109.7 436.6,107.1 439.3,111.5 441.9,122 444.5,107.1 447.2,98.3 448.9,86.9 451.5,100.1 455,101 459.4,96.6 462,87.8 463.8,88.7 465.5,109.7 470.8,106.2 474.3,101.8 475.2,80.8 477.8,98.3 480.4,104.5 484.8,101.8 488.3,90.4 491,103.6 494.5,112.3 498,107.1 500.6,84.3 504.1,100.1 506.7,109.7 512.9,106.2 514.6,79.1 516.4,87.8 519,99.2 524.2,94.8 527.7,74.7 530.4,82.6 532.5,95.6 535.9,92.3 539.2,80.5 541.8,83.9 545.1,93.9 549.3,97.3 552.7,95.6 555.2,78 557.7,88.9 561.1,88.9 563.6,80.5 567.8,95.6 572.8,97.3 576.2,80.5 578.7,87.2 580.4,95.6 584.6,96.5 587.1,78.8 589.6,88.9 592.1,89.7 594.6,78.8 597.1,82.2 598.8,88.9 602.2,78.8 604.7,93.9 610.6,97.3 613.1,97.3 614.8,78 620.6,79.7 622.3,81.3" fill="none" stroke="#000" stroke-width="1" stroke-linejoin="round"/>
<rect x="93.65" y="240.35" width="4.9" height="4.9" fill="#000"/>
<rect x="95.62" y="239.9" width="4.9" height="4.9" fill="#000"/>
<rect x="97.6" y="239.45" width="4.9" height="4.9" fill="#000"/>
<rect x="99.58" y="239" width="4.9" height="4.9" fill="#000"/>
<rect x="101.55" y="238.55" width="4.9" height="4.9" fill="#000"/>
<rect x="103.88" y="237.08" width="4.9" height="4.9" fill="#000"/>
<rect x="106.22" y="235.62" width="4.9" height="4.9" fill="#000"/>
<rect x="108.55" y="234.15" width="4.9" height="4.9" fill="#000"/>
<rect x="110.32" y="231.55" width="4.9" height="4.9" fill="#000"/>
<rect x="112.08" y="228.95" width="4.9" height="4.9" fill="#000"/>
<rect x="113.85" y="226.35" width="4.9" height="4.9" fill="#000"/>
<rect x="115.6" y="223.7" width="4.9" height="4.9" fill="#000"/>
<rect x="117.35" y="221.05" width="4.9" height="4.9" fill="#000"/>
<rect x="119.08" y="221.35" width="4.9" height="4.9" fill="#000"/>
<rect x="120.82" y="221.65" width="4.9" height="4.9" fill="#000"/>
<rect x="122.55" y="221.95" width="4.9" height="4.9" fill="#000"/>
<rect x="123.45" y="237.75" width="4.9" height="4.9" fill="#000"/>
<rect x="124.35" y="218.45" width="4.9" height="4.9" fill="#000"/>
<rect x="126.08" y="217.58" width="4.9" height="4.9" fill="#000"/>
<rect x="127.82" y="216.72" width="4.9" height="4.9" fill="#000"/>
<rect x="129.55" y="215.85" width="4.9" height="4.9" fill="#000"/>
<rect x="131.75" y="215.4" width="4.9" height="4.9" fill="#000"/>
<rect x="133.95" y="214.95" width="4.9" height="4.9" fill="#000"/>
<rect x="136.15" y="209.7" width="4.9" height="4.9" fill="#000"/>
<rect x="138.35" y="204.45" width="4.9" height="4.9" fill="#000"/>
<rect x="140.1" y="203.55" width="4.9" height="4.9" fill="#000"/>
<rect x="141.85" y="202.65" width="4.9" height="4.9" fill="#000"/>
<rect x="143.25" y="235.95" width="4.9" height="4.9" fill="#000"/>
<rect x="144.45" y="197.45" width="4.9" height="4.9" fill="#000"/>
<rect x="146.2" y="192.6" width="4.9" height="4.9" fill="#000"/>
<rect x="147.95" y="187.75" width="4.9" height="4.9" fill="#000"/>
<rect x="150.15" y="181.2" width="4.9" height="4.9" fill="#000"/>
<rect x="152.35" y="174.65" width="4.9" height="4.9" fill="#000"/>
<rect x="154.68" y="173.78" width="4.9" height="4.9" fill="#000"/>
<rect x="157.02" y="172.92" width="4.9" height="4.9" fill="#000"/>
<rect x="159.35" y="172.05" width="4.9" height="4.9" fill="#000"/>
<rect x="161.15" y="149.25" width="4.9" height="4.9" fill="#000"/>
<rect x="163.35" y="149.25" width="4.9" height="4.9" fill="#000"/>
<rect x="165.55" y="149.25" width="4.9" height="4.9" fill="#000"/>
<rect x="167.7" y="146.6" width="4.9" height="4.9" fill="#000"/>
<rect x="169.85" y="143.95" width="4.9" height="4.9" fill="#000"/>
<rect x="170.75" y="135.25" width="4.9" height="4.9" fill="#000"/>
<rect x="173.35" y="125.55" width="4.9" height="4.9" fill="#000"/>
<rect x="175.1" y="127.3" width="4.9" height="4.9" fill="#000"/>
<rect x="176.85" y="129.05" width="4.9" height="4.9" fill="#000"/>
<rect x="178.92" y="131.68" width="4.9" height="4.9" fill="#000"/>
<rect x="180.98" y="134.32" width="4.9" height="4.9" fill="#000"/>
<rect x="183.05" y="136.95" width="4.9" height="4.9" fill="#000"/>
<rect x="185.08" y="135.78" width="4.9" height="4.9" fill="#000"/>
<rect x="187.12" y="134.62" width="4.9" height="4.9" fill="#000"/>
<rect x="189.15" y="133.45" width="4.9" height="4.9" fill="#000"/>
<rect x="191.48" y="134.92" width="4.9" height="4.9" fill="#000"/>
<rect x="193.82" y="136.38" width="4.9" height="4.9" fill="#000"/>
<rect x="196.15" y="137.85" width="4.9" height="4.9" fill="#000"/>
<rect x="197.05" y="125.55" width="4.9" height="4.9" fill="#000"/>
<rect x="199.05" y="124.3" width="4.9" height="4.9" fill="#000"/>
<rect x="201.05" y="123.05" width="4.9" height="4.9" fill="#000"/>
<rect x="203.08" y="125.68" width="4.9" height="4.9" fill="#000"/>
<rect x="205.12" y="128.32" width="4.9" height="4.9" fill="#000"/>
<rect x="207.15" y="130.95" width="4.9" height="4.9" fill="#000"/>
<rect x="209.48" y="124.82" width="4.9" height="4.9" fill="#000"/>
<rect x="211.82" y="118.68" width="4.9" height="4.9" fill="#000"/>
<rect x="214.15" y="112.55" width="4.9" height="4.9" fill="#000"/>
<rect x="215.9" y="116.05" width="4.9" height="4.9" fill="#000"/>
<rect x="217.65" y="119.55" width="4.9" height="4.9" fill="#000"/>
<rect x="220.35" y="128.35" width="4.9" height="4.9" fill="#000"/>
<rect x="222.38" y="127.78" width="4.9" height="4.9" fill="#000"/>
<rect x="224.42" y="127.22" width="4.9" height="4.9" fill="#000"/>
<rect x="226.45" y="126.65" width="4.9" height="4.9" fill="#000"/>
<rect x="228.2" y="131" width="4.9" height="4.9" fill="#000"/>
<rect x="229.95" y="135.35" width="4.9" height="4.9" fill="#000"/>
<rect x="232.15" y="138.85" width="4.9" height="4.9" fill="#000"/>
<rect x="234.35" y="142.35" width="4.9" height="4.9" fill="#000"/>
<rect x="236.55" y="138" width="4.9" height="4.9" fill="#000"/>
<rect x="238.75" y="133.65" width="4.9" height="4.9" fill="#000"/>
<rect x="241.08" y="135.38" width="4.9" height="4.9" fill="#000"/>
<rect x="243.42" y="137.12" width="4.9" height="4.9" fill="#000"/>
<rect x="245.75" y="138.85" width="4.9" height="4.9" fill="#000"/>
<rect x="247.5" y="134.05" width="4.9" height="4.9" fill="#000"/>
<rect x="249.25" y="129.25" width="4.9" height="4.9" fill="#000"/>
<rect x="251.85" y="124.85" width="4.9" height="4.9" fill="#000"/>
<rect x="254.45" y="120.45" width="4.9" height="4.9" fill="#000"/>
<rect x="256.2" y="126.15" width="4.9" height="4.9" fill="#000"/>
<rect x="257.95" y="131.85" width="4.9" height="4.9" fill="#000"/>
<rect x="259.75" y="123.95" width="4.9" height="4.9" fill="#000"/>
<rect x="261.45" y="111.75" width="4.9" height="4.9" fill="#000"/>
<rect x="263.82" y="109.98" width="4.9" height="4.9" fill="#000"/>
<rect x="266.18" y="108.22" width="4.9" height="4.9" fill="#000"/>
<rect x="268.55" y="106.45" width="4.9" height="4.9" fill="#000"/>
<rect x="271.15" y="116.95" width="4.9" height="4.9" fill="#000"/>
<rect x="272.85" y="124.85" width="4.9" height="4.9" fill="#000"/>
<rect x="274.92" y="118.42" width="4.9" height="4.9" fill="#000"/>
<rect x="276.98" y="111.98" width="4.9" height="4.9" fill="#000"/>
<rect x="279.05" y="105.55" width="4.9" height="4.9" fill="#000"/>
<rect x="281.2" y="114.3" width="4.9" height="4.9" fill="#000"/>
<rect x="283.35" y="123.05" width="4.9" height="4.9" fill="#000"/>
<rect x="285.1" y="119.15" width="4.9" height="4.9" fill="#000"/>
<rect x="286.85" y="115.25" width="4.9" height="4.9" fill="#000"/>
<rect x="288.62" y="112.32" width="4.9" height="4.9" fill="#000"/>
<rect x="290.38" y="109.38" width="4.9" height="4.9" fill="#000"/>
<rect x="292.15" y="106.45" width="4.9" height="4.9" fill="#000"/>
<rect x="293.92" y="112.28" width="4.9" height="4.9" fill="#000"/>
<rect x="295.68" y="118.12" width="4.9" height="4.9" fill="#000"/>
<rect x="297.45" y="123.95" width="4.9" height="4.9" fill="#000"/>
<rect x="299.18" y="118.42" width="4.9" height="4.9" fill="#000"/>
<rect x="300.92" y="112.88" width="4.9" height="4.9" fill="#000"/>
<rect x="302.65" y="107.35" width="4.9" height="4.9" fill="#000"/>
<rect x="304.68" y="111.42" width="4.9" height="4.9" fill="#000"/>
<rect x="306.72" y="115.48" width="4.9" height="4.9" fill="#000"/>
<rect x="308.75" y="119.55" width="4.9" height="4.9" fill="#000"/>
<rect x="310.95" y="116.95" width="4.9" height="4.9" fill="#000"/>
<rect x="313.15" y="114.35" width="4.9" height="4.9" fill="#000"/>
<rect x="314.9" y="109.1" width="4.9" height="4.9" fill="#000"/>
<rect x="316.65" y="103.85" width="4.9" height="4.9" fill="#000"/>
<rect x="318.65" y="103.45" width="4.9" height="4.9" fill="#000"/>
<rect x="320.65" y="103.05" width="4.9" height="4.9" fill="#000"/>
<rect x="322.45" y="111.85" width="4.9" height="4.9" fill="#000"/>
<rect x="324.15" y="116.25" width="4.9" height="4.9" fill="#000"/>
<rect x="326.85" y="108.35" width="4.9" height="4.9" fill="#000"/>
<rect x="329.45" y="107.45" width="4.9" height="4.9" fill="#000"/>
<rect x="330.35" y="121.45" width="4.9" height="4.9" fill="#000"/>
<rect x="332.05" y="132.85" width="4.9" height="4.9" fill="#000"/>
<rect x="333.85" y="164.45" width="4.9" height="4.9" fill="#000"/>
<rect x="335.55" y="167.05" width="4.9" height="4.9" fill="#000"/>
<rect x="337.35" y="142.55" width="4.9" height="4.9" fill="#000"/>
<rect x="339.05" y="156.55" width="4.9" height="4.9" fill="#000"/>
<rect x="339.95" y="109.25" width="4.9" height="4.9" fill="#000"/>
<rect x="341.75" y="105.75" width="4.9" height="4.9" fill="#000"/>
<rect x="343.45" y="82.05" width="4.9" height="4.9" fill="#000"/>
<rect x="345.65" y="82.95" width="4.9" height="4.9" fill="#000"/>
<rect x="347.85" y="83.85" width="4.9" height="4.9" fill="#000"/>
<rect x="349.55" y="88.25" width="4.9" height="4.9" fill="#000"/>
<rect x="351.75" y="83.85" width="4.9" height="4.9" fill="#000"/>
<rect x="353.95" y="79.45" width="4.9" height="4.9" fill="#000"/>
<rect x="356.65" y="80.35" width="4.9" height="4.9" fill="#000"/>
<rect x="359.25" y="87.35" width="4.9" height="4.9" fill="#000"/>
<rect x="361" y="91.3" width="4.9" height="4.9" fill="#000"/>
<rect x="362.75" y="95.25" width="4.9" height="4.9" fill="#000"/>
<rect x="363.65" y="87.35" width="4.9" height="4.9" fill="#000"/>
<rect x="366.25" y="64.55" width="4.9" height="4.9" fill="#000"/>
<rect x="367.15" y="85.55" width="4.9" height="4.9" fill="#000"/>
<rect x="367.95" y="100.45" width="4.9" height="4.9" fill="#000"/>
<rect x="370.65" y="104.85" width="4.9" height="4.9" fill="#000"/>
<rect x="372.4" y="107.05" width="4.9" height="4.9" fill="#000"/>
<rect x="374.15" y="109.25" width="4.9" height="4.9" fill="#000"/>
<rect x="375.85" y="122.35" width="4.9" height="4.9" fill="#000"/>
<rect x="377.65" y="90.85" width="4.9" height="4.9" fill="#000"/>
<rect x="379.35" y="99.55" width="4.9" height="4.9" fill="#000"/>
<rect x="382.05" y="105.75" width="4.9" height="4.9" fill="#000"/>
<rect x="384.2" y="107.95" width="4.9" height="4.9" fill="#000"/>
<rect x="386.35" y="110.15" width="4.9" height="4.9" fill="#000"/>
<rect x="388.1" y="107.5" width="4.9" height="4.9" fill="#000"/>
<rect x="389.85" y="104.85" width="4.9" height="4.9" fill="#000"/>
<rect x="391.62" y="103.08" width="4.9" height="4.9" fill="#000"/>
<rect x="393.38" y="101.32" width="4.9" height="4.9" fill="#000"/>
<rect x="395.15" y="99.55" width="4.9" height="4.9" fill="#000"/>
<rect x="396.9" y="99.15" width="4.9" height="4.9" fill="#000"/>
<rect x="398.65" y="98.75" width="4.9" height="4.9" fill="#000"/>
<rect x="401.25" y="113.65" width="4.9" height="4.9" fill="#000"/>
<rect x="402.15" y="104.85" width="4.9" height="4.9" fill="#000"/>
<rect x="404.75" y="89.05" width="4.9" height="4.9" fill="#000"/>
<rect x="407.45" y="79.45" width="4.9" height="4.9" fill="#000"/>
<rect x="409.2" y="85.6" width="4.9" height="4.9" fill="#000"/>
<rect x="410.95" y="91.75" width="4.9" height="4.9" fill="#000"/>
<rect x="412.65" y="110.15" width="4.9" height="4.9" fill="#000"/>
<rect x="414.42" y="108.08" width="4.9" height="4.9" fill="#000"/>
<rect x="416.18" y="106.02" width="4.9" height="4.9" fill="#000"/>
<rect x="417.95" y="103.95" width="4.9" height="4.9" fill="#000"/>
<rect x="420.55" y="90.85" width="4.9" height="4.9" fill="#000"/>
<rect x="422.85" y="98.55" width="4.9" height="4.9" fill="#000"/>
<rect x="425.45" y="112.55" width="4.9" height="4.9" fill="#000"/>
<rect x="427.15" y="114.25" width="4.9" height="4.9" fill="#000"/>
<rect x="429.85" y="107.25" width="4.9" height="4.9" fill="#000"/>
<rect x="432" y="105.95" width="4.9" height="4.9" fill="#000"/>
<rect x="434.15" y="104.65" width="4.9" height="4.9" fill="#000"/>
<rect x="436.85" y="109.05" width="4.9" height="4.9" fill="#000"/>
<rect x="439.45" y="119.55" width="4.9" height="4.9" fill="#000"/>
<rect x="442.05" y="104.65" width="4.9" height="4.9" fill="#000"/>
<rect x="444.75" y="95.85" width="4.9" height="4.9" fill="#000"/>
<rect x="446.45" y="84.45" width="4.9" height="4.9" fill="#000"/>
<rect x="449.05" y="97.65" width="4.9" height="4.9" fill="#000"/>
<rect x="450.8" y="98.1" width="4.9" height="4.9" fill="#000"/>
<rect x="452.55" y="98.55" width="4.9" height="4.9" fill="#000"/>
<rect x="454.75" y="96.35" width="4.9" height="4.9" fill="#000"/>
<rect x="456.95" y="94.15" width="4.9" height="4.9" fill="#000"/>
<rect x="459.55" y="85.35" width="4.9" height="4.9" fill="#000"/>
<rect x="461.35" y="86.25" width="4.9" height="4.9" fill="#000"/>
<rect x="463.05" y="107.25" width="4.9" height="4.9" fill="#000"/>
<rect x="464.82" y="106.08" width="4.9" height="4.9" fill="#000"/>
<rect x="466.58" y="104.92" width="4.9" height="4.9" fill="#000"/>
<rect x="468.35" y="103.75" width="4.9" height="4.9" fill="#000"/>
<rect x="470.1" y="101.55" width="4.9" height="4.9" fill="#000"/>
<rect x="471.85" y="99.35" width="4.9" height="4.9" fill="#000"/>
<rect x="472.75" y="78.35" width="4.9" height="4.9" fill="#000"/>
<rect x="475.35" y="95.85" width="4.9" height="4.9" fill="#000"/>
<rect x="477.95" y="102.05" width="4.9" height="4.9" fill="#000"/>
<rect x="480.15" y="100.7" width="4.9" height="4.9" fill="#000"/>
<rect x="482.35" y="99.35" width="4.9" height="4.9" fill="#000"/>
<rect x="484.1" y="93.65" width="4.9" height="4.9" fill="#000"/>
<rect x="485.85" y="87.95" width="4.9" height="4.9" fill="#000"/>
<rect x="488.55" y="101.15" width="4.9" height="4.9" fill="#000"/>
<rect x="490.3" y="105.5" width="4.9" height="4.9" fill="#000"/>
<rect x="492.05" y="109.85" width="4.9" height="4.9" fill="#000"/>
<rect x="493.8" y="107.25" width="4.9" height="4.9" fill="#000"/>
<rect x="495.55" y="104.65" width="4.9" height="4.9" fill="#000"/>
<rect x="498.15" y="81.85" width="4.9" height="4.9" fill="#000"/>
<rect x="499.9" y="89.75" width="4.9" height="4.9" fill="#000"/>
<rect x="501.65" y="97.65" width="4.9" height="4.9" fill="#000"/>
<rect x="504.25" y="107.25" width="4.9" height="4.9" fill="#000"/>
<rect x="506.32" y="106.08" width="4.9" height="4.9" fill="#000"/>
<rect x="508.38" y="104.92" width="4.9" height="4.9" fill="#000"/>
<rect x="510.45" y="103.75" width="4.9" height="4.9" fill="#000"/>
<rect x="512.15" y="76.65" width="4.9" height="4.9" fill="#000"/>
<rect x="513.95" y="85.35" width="4.9" height="4.9" fill="#000"/>
<rect x="516.55" y="96.75" width="4.9" height="4.9" fill="#000"/>
<rect x="518.28" y="95.28" width="4.9" height="4.9" fill="#000"/>
<rect x="520.02" y="93.82" width="4.9" height="4.9" fill="#000"/>
<rect x="521.75" y="92.35" width="4.9" height="4.9" fill="#000"/>
<rect x="523.5" y="82.3" width="4.9" height="4.9" fill="#000"/>
<rect x="525.25" y="72.25" width="4.9" height="4.9" fill="#000"/>
<rect x="527.95" y="80.15" width="4.9" height="4.9" fill="#000"/>
<rect x="530.05" y="93.15" width="4.9" height="4.9" fill="#000"/>
<rect x="531.75" y="91.5" width="4.9" height="4.9" fill="#000"/>
<rect x="533.45" y="89.85" width="4.9" height="4.9" fill="#000"/>
<rect x="535.1" y="83.95" width="4.9" height="4.9" fill="#000"/>
<rect x="536.75" y="78.05" width="4.9" height="4.9" fill="#000"/>
<rect x="539.35" y="81.45" width="4.9" height="4.9" fill="#000"/>
<rect x="541" y="86.45" width="4.9" height="4.9" fill="#000"/>
<rect x="542.65" y="91.45" width="4.9" height="4.9" fill="#000"/>
<rect x="544.75" y="93.15" width="4.9" height="4.9" fill="#000"/>
<rect x="546.85" y="94.85" width="4.9" height="4.9" fill="#000"/>
<rect x="548.55" y="94" width="4.9" height="4.9" fill="#000"/>
<rect x="550.25" y="93.15" width="4.9" height="4.9" fill="#000"/>
<rect x="552.75" y="75.55" width="4.9" height="4.9" fill="#000"/>
<rect x="555.25" y="86.45" width="4.9" height="4.9" fill="#000"/>
<rect x="556.95" y="86.45" width="4.9" height="4.9" fill="#000"/>
<rect x="558.65" y="86.45" width="4.9" height="4.9" fill="#000"/>
<rect x="561.15" y="78.05" width="4.9" height="4.9" fill="#000"/>
<rect x="563.25" y="85.6" width="4.9" height="4.9" fill="#000"/>
<rect x="565.35" y="93.15" width="4.9" height="4.9" fill="#000"/>
<rect x="567.85" y="94" width="4.9" height="4.9" fill="#000"/>
<rect x="570.35" y="94.85" width="4.9" height="4.9" fill="#000"/>
<rect x="572.05" y="86.45" width="4.9" height="4.9" fill="#000"/>
<rect x="573.75" y="78.05" width="4.9" height="4.9" fill="#000"/>
<rect x="576.25" y="84.75" width="4.9" height="4.9" fill="#000"/>
<rect x="577.95" y="93.15" width="4.9" height="4.9" fill="#000"/>
<rect x="580.05" y="93.6" width="4.9" height="4.9" fill="#000"/>
<rect x="582.15" y="94.05" width="4.9" height="4.9" fill="#000"/>
<rect x="584.65" y="76.35" width="4.9" height="4.9" fill="#000"/>
<rect x="587.15" y="86.45" width="4.9" height="4.9" fill="#000"/>
<rect x="589.65" y="87.25" width="4.9" height="4.9" fill="#000"/>
<rect x="592.15" y="76.35" width="4.9" height="4.9" fill="#000"/>
<rect x="594.65" y="79.75" width="4.9" height="4.9" fill="#000"/>
<rect x="596.35" y="86.45" width="4.9" height="4.9" fill="#000"/>
<rect x="598.05" y="81.4" width="4.9" height="4.9" fill="#000"/>
<rect x="599.75" y="76.35" width="4.9" height="4.9" fill="#000"/>
<rect x="602.25" y="91.45" width="4.9" height="4.9" fill="#000"/>
<rect x="604.22" y="92.58" width="4.9" height="4.9" fill="#000"/>
<rect x="606.18" y="93.72" width="4.9" height="4.9" fill="#000"/>
<rect x="608.15" y="94.85" width="4.9" height="4.9" fill="#000"/>
<rect x="610.65" y="94.85" width="4.9" height="4.9" fill="#000"/>
<rect x="612.35" y="75.55" width="4.9" height="4.9" fill="#000"/>
<rect x="614.28" y="76.12" width="4.9" height="4.9" fill="#000"/>
<rect x="616.22" y="76.68" width="4.9" height="4.9" fill="#000"/>
<rect x="618.15" y="77.25" width="4.9" height="4.9" fill="#000"/>
<rect x="619.85" y="78.85" width="4.9" height="4.9" fill="#000"/>
<line x1="420" y1="178.1" x2="447.8" y2="178.1" stroke="#FF0000" stroke-width="1"/>
<path d="M433.4,175.5 L435.74,179.66 L431.06,179.66Z" fill="#FF0000"/>
<text transform="translate(451.7,183.8) scale(1.2000,1)" font-size="16.6" text-anchor="start" fill="#000">UFB-MFC</text>
<line x1="420" y1="213.6" x2="447.8" y2="213.6" stroke="#000" stroke-width="1"/>
<rect x="431.6" y="211.4" width="4.4" height="4.4" fill="#000"/>
<text transform="translate(451.4,219.3) scale(1.2100,1)" font-size="16.6" text-anchor="start" fill="#000">Nano-UFB-MFC</text>
<line x1="105.5" y1="346" x2="645.1" y2="346" stroke="#383838" stroke-width="1.6"/>
<line x1="644.3" y1="346" x2="644.3" y2="560.8" stroke="#383838" stroke-width="1.6"/>
<line x1="106" y1="346" x2="106" y2="560.8" stroke="#BFBFBF" stroke-width="1"/>
<line x1="106" y1="560.8" x2="644.3" y2="560.8" stroke="#BFBFBF" stroke-width="1"/>
<line x1="100.5" y1="560.8" x2="106" y2="560.8" stroke="#BFBFBF" stroke-width="1"/>
<text transform="translate(89.8,567.1) scale(1.1000,1)" font-size="18.4" text-anchor="end" fill="#000">0</text>
<line x1="100.5" y1="525" x2="106" y2="525" stroke="#BFBFBF" stroke-width="1"/>
<text transform="translate(89.8,531.3) scale(1.1000,1)" font-size="18.4" text-anchor="end" fill="#000">100</text>
<line x1="100.5" y1="489.2" x2="106" y2="489.2" stroke="#BFBFBF" stroke-width="1"/>
<text transform="translate(89.8,495.5) scale(1.1000,1)" font-size="18.4" text-anchor="end" fill="#000">200</text>
<line x1="100.5" y1="453.4" x2="106" y2="453.4" stroke="#BFBFBF" stroke-width="1"/>
<text transform="translate(89.8,459.7) scale(1.1000,1)" font-size="18.4" text-anchor="end" fill="#000">300</text>
<line x1="100.5" y1="417.6" x2="106" y2="417.6" stroke="#BFBFBF" stroke-width="1"/>
<text transform="translate(89.8,423.9) scale(1.1000,1)" font-size="18.4" text-anchor="end" fill="#000">400</text>
<line x1="100.5" y1="381.8" x2="106" y2="381.8" stroke="#BFBFBF" stroke-width="1"/>
<text transform="translate(89.8,388.1) scale(1.1000,1)" font-size="18.4" text-anchor="end" fill="#000">500</text>
<line x1="100.5" y1="346" x2="106" y2="346" stroke="#BFBFBF" stroke-width="1"/>
<text transform="translate(89.8,352.3) scale(1.1000,1)" font-size="18.4" text-anchor="end" fill="#000">600</text>
<line x1="106" y1="560.8" x2="106" y2="565.3" stroke="#BFBFBF" stroke-width="1"/>
<text transform="translate(106,589.3) scale(1.1400,1)" font-size="17.8" text-anchor="middle" fill="#000">0</text>
<line x1="165.81" y1="560.8" x2="165.81" y2="565.3" stroke="#BFBFBF" stroke-width="1"/>
<text transform="translate(165.81,589.3) scale(1.1400,1)" font-size="17.8" text-anchor="middle" fill="#000">5</text>
<line x1="225.62" y1="560.8" x2="225.62" y2="565.3" stroke="#BFBFBF" stroke-width="1"/>
<text transform="translate(225.62,589.3) scale(1.1400,1)" font-size="17.8" text-anchor="middle" fill="#000">10</text>
<line x1="285.43" y1="560.8" x2="285.43" y2="565.3" stroke="#BFBFBF" stroke-width="1"/>
<text transform="translate(285.43,589.3) scale(1.1400,1)" font-size="17.8" text-anchor="middle" fill="#000">15</text>
<line x1="345.24" y1="560.8" x2="345.24" y2="565.3" stroke="#BFBFBF" stroke-width="1"/>
<text transform="translate(345.24,589.3) scale(1.1400,1)" font-size="17.8" text-anchor="middle" fill="#000">20</text>
<line x1="405.06" y1="560.8" x2="405.06" y2="565.3" stroke="#BFBFBF" stroke-width="1"/>
<text transform="translate(405.06,589.3) scale(1.1400,1)" font-size="17.8" text-anchor="middle" fill="#000">25</text>
<line x1="464.87" y1="560.8" x2="464.87" y2="565.3" stroke="#BFBFBF" stroke-width="1"/>
<text transform="translate(464.87,589.3) scale(1.1400,1)" font-size="17.8" text-anchor="middle" fill="#000">30</text>
<line x1="524.68" y1="560.8" x2="524.68" y2="565.3" stroke="#BFBFBF" stroke-width="1"/>
<text transform="translate(524.68,589.3) scale(1.1400,1)" font-size="17.8" text-anchor="middle" fill="#000">35</text>
<line x1="584.49" y1="560.8" x2="584.49" y2="565.3" stroke="#BFBFBF" stroke-width="1"/>
<text transform="translate(584.49,589.3) scale(1.1400,1)" font-size="17.8" text-anchor="middle" fill="#000">40</text>
<line x1="644.3" y1="560.8" x2="644.3" y2="565.3" stroke="#BFBFBF" stroke-width="1"/>
<text transform="translate(644.3,589.3) scale(1.1400,1)" font-size="17.8" text-anchor="middle" fill="#000">45</text>
<text transform="translate(327.7,614.7) scale(1.0200,1)" font-size="18.9" text-anchor="start" fill="#000">Time / days</text>
<text transform="translate(47.5,511.9) rotate(-90) scale(0.9370,1)" font-size="20.2" text-anchor="start" fill="#000">Voltage / mV</text>
<text transform="translate(18.7,638.2) scale(0.9800,1)" font-size="37.1" text-anchor="start" fill="#000">B</text>
<path d="M106,560.8 C107.99,559.55 113.97,560.44 117.96,553.28 C121.95,546.12 125.94,529.65 129.92,517.84 C133.91,506.03 137.9,494.39 141.89,482.4 C145.87,470.4 149.86,454.95 153.85,445.88 C157.84,436.81 161.82,430.97 165.81,427.98 C169.8,425 173.79,430.97 177.77,427.98 C181.76,425 185.75,413.6 189.74,410.08 C193.72,406.56 197.71,409.31 201.7,406.86 C205.69,404.41 209.67,396.9 213.66,395.4 C217.65,393.91 221.63,398.27 225.62,397.91 C229.61,397.55 233.6,392.96 237.58,393.26 C241.57,393.55 245.56,398.69 249.55,399.7 C253.53,400.71 257.52,397.37 261.51,399.34 C265.5,401.31 269.48,410.98 273.47,411.51 C277.46,412.05 281.45,404.29 285.43,402.56 C289.42,400.83 293.41,400.54 297.4,401.13 C301.38,401.73 305.37,404.89 309.36,406.14 C313.35,407.4 317.33,408.05 321.32,408.65 C325.31,409.25 329.29,409.66 333.28,409.72 C337.27,409.78 341.26,409.84 345.24,409.01 C349.23,408.17 353.22,402.98 357.21,404.71 C361.19,406.44 365.18,417.72 369.17,419.39 C373.16,421.06 377.14,415.51 381.13,414.74 C385.12,413.96 389.11,414.74 393.09,414.74 C397.08,414.74 401.07,414.32 405.06,414.74 C409.04,415.15 413.03,418.26 417.02,417.24 C421.01,416.23 424.99,409.54 428.98,408.65 C432.97,407.75 436.95,410.98 440.94,411.87 C444.93,412.77 448.92,413.78 452.9,414.02 C456.89,414.26 460.88,413.12 464.87,413.3 C468.85,413.48 472.84,415.57 476.83,415.09 C480.82,414.62 484.8,411.45 488.79,410.44 C492.78,409.43 496.77,409.31 500.75,409.01 C504.74,408.71 508.73,408.95 512.72,408.65 C516.7,408.35 520.69,407.46 524.68,407.22 C528.67,406.98 532.65,407.22 536.64,407.22 C540.63,407.22 544.61,407.22 548.6,407.22 C552.59,407.22 556.58,407.22 560.56,407.22 C564.55,407.22 568.54,407.22 572.53,407.22 C576.51,407.22 582.5,407.22 584.49,407.22" fill="none" stroke="#000" stroke-width="2.2" stroke-linejoin="round" stroke-linecap="round"/>
<path d="M106,560.8 C107.99,557.64 113.97,548.81 117.96,541.83 C121.95,534.84 125.94,538.6 129.92,518.91 C133.91,499.22 137.9,441.59 141.89,423.69 C145.87,405.79 149.86,413.78 153.85,411.51 C157.84,409.25 161.82,408.05 165.81,410.08 C169.8,412.11 173.79,422.37 177.77,423.69 C181.76,425 185.75,420.11 189.74,417.96 C193.72,415.81 197.71,411.33 201.7,410.8 C205.69,410.26 209.67,415.39 213.66,414.74 C217.65,414.08 221.63,410.08 225.62,406.86 C229.61,403.64 233.6,396.48 237.58,395.4 C241.57,394.33 245.56,399.58 249.55,400.42 C253.53,401.25 257.52,399.1 261.51,400.42 C265.5,401.73 269.48,402.98 273.47,408.29 C277.46,413.6 281.45,430.67 285.43,432.28 C289.42,433.89 293.41,420.11 297.4,417.96 C301.38,415.81 305.37,419.51 309.36,419.39 C313.35,419.27 317.33,417.96 321.32,417.24 C325.31,416.53 329.29,414.8 333.28,415.09 C337.27,415.39 341.26,417.96 345.24,419.03 C349.23,420.11 353.22,422.73 357.21,421.54 C361.19,420.34 365.18,414.38 369.17,411.87 C373.16,409.37 377.14,407.75 381.13,406.5 C385.12,405.25 389.11,405.61 393.09,404.35 C397.08,403.1 401.07,400.54 405.06,398.98 C409.04,397.43 413.03,396.42 417.02,395.05 C421.01,393.67 424.99,391.47 428.98,390.75 C432.97,390.03 436.95,391.47 440.94,390.75 C444.93,390.03 448.92,388.24 452.9,386.45 C456.89,384.66 460.88,380.49 464.87,380.01 C468.85,379.53 472.84,383.59 476.83,383.59 C480.82,383.59 484.8,380.43 488.79,380.01 C492.78,379.59 496.77,381.26 500.75,381.08 C504.74,380.91 508.73,379.41 512.72,378.94 C516.7,378.46 520.69,378.34 524.68,378.22 C528.67,378.1 532.65,378.22 536.64,378.22 C540.63,378.22 544.61,378.22 548.6,378.22 C552.59,378.22 556.58,378.22 560.56,378.22 C564.55,378.22 568.54,378.22 572.53,378.22 C576.51,378.22 582.5,378.22 584.49,378.22" fill="none" stroke="#FF0000" stroke-width="2.2" stroke-linejoin="round" stroke-linecap="round"/>
<rect x="102.7" y="557.5" width="6.6" height="6.6" fill="#000"/>
<rect x="114.66" y="549.98" width="6.6" height="6.6" fill="#000"/>
<rect x="126.62" y="514.54" width="6.6" height="6.6" fill="#000"/>
<rect x="138.59" y="479.1" width="6.6" height="6.6" fill="#000"/>
<rect x="150.55" y="442.58" width="6.6" height="6.6" fill="#000"/>
<rect x="162.51" y="424.68" width="6.6" height="6.6" fill="#000"/>
<rect x="174.47" y="424.68" width="6.6" height="6.6" fill="#000"/>
<rect x="186.44" y="406.78" width="6.6" height="6.6" fill="#000"/>
<rect x="198.4" y="403.56" width="6.6" height="6.6" fill="#000"/>
<rect x="210.36" y="392.1" width="6.6" height="6.6" fill="#000"/>
<rect x="222.32" y="394.61" width="6.6" height="6.6" fill="#000"/>
<rect x="234.28" y="389.96" width="6.6" height="6.6" fill="#000"/>
<rect x="246.25" y="396.4" width="6.6" height="6.6" fill="#000"/>
<rect x="258.21" y="396.04" width="6.6" height="6.6" fill="#000"/>
<rect x="270.17" y="408.21" width="6.6" height="6.6" fill="#000"/>
<rect x="282.13" y="399.26" width="6.6" height="6.6" fill="#000"/>
<rect x="294.1" y="397.83" width="6.6" height="6.6" fill="#000"/>
<rect x="306.06" y="402.84" width="6.6" height="6.6" fill="#000"/>
<rect x="318.02" y="405.35" width="6.6" height="6.6" fill="#000"/>
<rect x="329.98" y="406.42" width="6.6" height="6.6" fill="#000"/>
<rect x="341.94" y="405.71" width="6.6" height="6.6" fill="#000"/>
<rect x="353.91" y="401.41" width="6.6" height="6.6" fill="#000"/>
<rect x="365.87" y="416.09" width="6.6" height="6.6" fill="#000"/>
<rect x="377.83" y="411.44" width="6.6" height="6.6" fill="#000"/>
<rect x="389.79" y="411.44" width="6.6" height="6.6" fill="#000"/>
<rect x="401.76" y="411.44" width="6.6" height="6.6" fill="#000"/>
<rect x="413.72" y="413.94" width="6.6" height="6.6" fill="#000"/>
<rect x="425.68" y="405.35" width="6.6" height="6.6" fill="#000"/>
<rect x="437.64" y="408.57" width="6.6" height="6.6" fill="#000"/>
<rect x="449.6" y="410.72" width="6.6" height="6.6" fill="#000"/>
<rect x="461.57" y="410" width="6.6" height="6.6" fill="#000"/>
<rect x="473.53" y="411.79" width="6.6" height="6.6" fill="#000"/>
<rect x="485.49" y="407.14" width="6.6" height="6.6" fill="#000"/>
<rect x="497.45" y="405.71" width="6.6" height="6.6" fill="#000"/>
<rect x="509.42" y="405.35" width="6.6" height="6.6" fill="#000"/>
<rect x="521.38" y="403.92" width="6.6" height="6.6" fill="#000"/>
<rect x="533.34" y="403.92" width="6.6" height="6.6" fill="#000"/>
<rect x="545.3" y="403.92" width="6.6" height="6.6" fill="#000"/>
<rect x="557.26" y="403.92" width="6.6" height="6.6" fill="#000"/>
<rect x="569.23" y="403.92" width="6.6" height="6.6" fill="#000"/>
<rect x="581.19" y="403.92" width="6.6" height="6.6" fill="#000"/>
<path d="M106,556.6 L109.78,563.32 L102.22,563.32Z" fill="#FF0000"/>
<path d="M117.96,537.63 L121.74,544.35 L114.18,544.35Z" fill="#FF0000"/>
<path d="M129.92,514.71 L133.7,521.43 L126.14,521.43Z" fill="#FF0000"/>
<path d="M141.89,419.49 L145.67,426.21 L138.11,426.21Z" fill="#FF0000"/>
<path d="M153.85,407.31 L157.63,414.03 L150.07,414.03Z" fill="#FF0000"/>
<path d="M165.81,405.88 L169.59,412.6 L162.03,412.6Z" fill="#FF0000"/>
<path d="M177.77,419.49 L181.55,426.21 L173.99,426.21Z" fill="#FF0000"/>
<path d="M189.74,413.76 L193.52,420.48 L185.96,420.48Z" fill="#FF0000"/>
<path d="M201.7,406.6 L205.48,413.32 L197.92,413.32Z" fill="#FF0000"/>
<path d="M213.66,410.54 L217.44,417.26 L209.88,417.26Z" fill="#FF0000"/>
<path d="M225.62,402.66 L229.4,409.38 L221.84,409.38Z" fill="#FF0000"/>
<path d="M237.58,391.2 L241.36,397.92 L233.8,397.92Z" fill="#FF0000"/>
<path d="M249.55,396.22 L253.33,402.94 L245.77,402.94Z" fill="#FF0000"/>
<path d="M261.51,396.22 L265.29,402.94 L257.73,402.94Z" fill="#FF0000"/>
<path d="M273.47,404.09 L277.25,410.81 L269.69,410.81Z" fill="#FF0000"/>
<path d="M285.43,428.08 L289.21,434.8 L281.65,434.8Z" fill="#FF0000"/>
<path d="M297.4,413.76 L301.18,420.48 L293.62,420.48Z" fill="#FF0000"/>
<path d="M309.36,415.19 L313.14,421.91 L305.58,421.91Z" fill="#FF0000"/>
<path d="M321.32,413.04 L325.1,419.76 L317.54,419.76Z" fill="#FF0000"/>
<path d="M333.28,410.89 L337.06,417.61 L329.5,417.61Z" fill="#FF0000"/>
<path d="M345.24,414.83 L349.02,421.55 L341.46,421.55Z" fill="#FF0000"/>
<path d="M357.21,417.34 L360.99,424.06 L353.43,424.06Z" fill="#FF0000"/>
<path d="M369.17,407.67 L372.95,414.39 L365.39,414.39Z" fill="#FF0000"/>
<path d="M381.13,402.3 L384.91,409.02 L377.35,409.02Z" fill="#FF0000"/>
<path d="M393.09,400.15 L396.87,406.87 L389.31,406.87Z" fill="#FF0000"/>
<path d="M405.06,394.78 L408.84,401.5 L401.28,401.5Z" fill="#FF0000"/>
<path d="M417.02,390.85 L420.8,397.57 L413.24,397.57Z" fill="#FF0000"/>
<path d="M428.98,386.55 L432.76,393.27 L425.2,393.27Z" fill="#FF0000"/>
<path d="M440.94,386.55 L444.72,393.27 L437.16,393.27Z" fill="#FF0000"/>
<path d="M452.9,382.25 L456.68,388.97 L449.12,388.97Z" fill="#FF0000"/>
<path d="M464.87,375.81 L468.65,382.53 L461.09,382.53Z" fill="#FF0000"/>
<path d="M476.83,379.39 L480.61,386.11 L473.05,386.11Z" fill="#FF0000"/>
<path d="M488.79,375.81 L492.57,382.53 L485.01,382.53Z" fill="#FF0000"/>
<path d="M500.75,376.88 L504.53,383.6 L496.97,383.6Z" fill="#FF0000"/>
<path d="M512.72,374.74 L516.5,381.46 L508.94,381.46Z" fill="#FF0000"/>
<path d="M524.68,374.02 L528.46,380.74 L520.9,380.74Z" fill="#FF0000"/>
<path d="M536.64,374.02 L540.42,380.74 L532.86,380.74Z" fill="#FF0000"/>
<path d="M548.6,374.02 L552.38,380.74 L544.82,380.74Z" fill="#FF0000"/>
<path d="M560.56,374.02 L564.34,380.74 L556.78,380.74Z" fill="#FF0000"/>
<path d="M572.53,374.02 L576.31,380.74 L568.75,380.74Z" fill="#FF0000"/>
<path d="M584.49,374.02 L588.27,380.74 L580.71,380.74Z" fill="#FF0000"/>
<line x1="429.9" y1="500.4" x2="457.3" y2="500.4" stroke="#FF0000" stroke-width="2"/>
<path d="M443.6,496.4 L447.2,502.8 L440,502.8Z" fill="#FF0000"/>
<text transform="translate(461.5,506.3) scale(1.0900,1)" font-size="17.8" text-anchor="start" fill="#000">UFB-MFC</text>
<line x1="429.9" y1="526.1" x2="457.3" y2="526.1" stroke="#000" stroke-width="2"/>
<rect x="440.4" y="522.9" width="6.4" height="6.4" fill="#000"/>
<text transform="translate(461.6,532.6) scale(1.1000,1)" font-size="17.8" text-anchor="start" fill="#000">Nano-UFB-MFC</text>
<line x1="87.4" y1="919.3" x2="604.5" y2="919.3" stroke="#5E5E5E" stroke-width="1.8"/>
<line x1="86.6" y1="673" x2="605.3" y2="673" stroke="#363636" stroke-width="1.7"/>
<line x1="604.5" y1="673" x2="604.5" y2="919.3" stroke="#363636" stroke-width="1.6"/>
<line x1="87.4" y1="673" x2="87.4" y2="919.3" stroke="#363636" stroke-width="1.6"/>
<line x1="81.5" y1="919.3" x2="87.4" y2="919.3" stroke="#BFBFBF" stroke-width="1"/>
<line x1="604.5" y1="919.3" x2="610.5" y2="919.3" stroke="#BFBFBF" stroke-width="1"/>
<text transform="translate(70.5,926.2) scale(1.0900,1)" font-size="20.6" text-anchor="end" fill="#000">0</text>
<text transform="translate(622.6,925.8) scale(1.0500,1)" font-size="20.7" text-anchor="start" fill="#000">0</text>
<line x1="81.5" y1="878.25" x2="87.4" y2="878.25" stroke="#BFBFBF" stroke-width="1"/>
<line x1="604.5" y1="878.25" x2="610.5" y2="878.25" stroke="#BFBFBF" stroke-width="1"/>
<text transform="translate(70.5,885.15) scale(1.0900,1)" font-size="20.6" text-anchor="end" fill="#000">200</text>
<text transform="translate(622.6,884.75) scale(1.0500,1)" font-size="20.7" text-anchor="start" fill="#000">100</text>
<line x1="81.5" y1="837.2" x2="87.4" y2="837.2" stroke="#BFBFBF" stroke-width="1"/>
<line x1="604.5" y1="837.2" x2="610.5" y2="837.2" stroke="#BFBFBF" stroke-width="1"/>
<text transform="translate(70.5,844.1) scale(1.0900,1)" font-size="20.6" text-anchor="end" fill="#000">400</text>
<text transform="translate(622.6,843.7) scale(1.0500,1)" font-size="20.7" text-anchor="start" fill="#000">200</text>
<line x1="81.5" y1="796.15" x2="87.4" y2="796.15" stroke="#BFBFBF" stroke-width="1"/>
<line x1="604.5" y1="796.15" x2="610.5" y2="796.15" stroke="#BFBFBF" stroke-width="1"/>
<text transform="translate(70.5,803.05) scale(1.0900,1)" font-size="20.6" text-anchor="end" fill="#000">600</text>
<text transform="translate(622.6,802.65) scale(1.0500,1)" font-size="20.7" text-anchor="start" fill="#000">300</text>
<line x1="81.5" y1="755.1" x2="87.4" y2="755.1" stroke="#BFBFBF" stroke-width="1"/>
<line x1="604.5" y1="755.1" x2="610.5" y2="755.1" stroke="#BFBFBF" stroke-width="1"/>
<text transform="translate(70.5,762) scale(1.0900,1)" font-size="20.6" text-anchor="end" fill="#000">800</text>
<text transform="translate(622.6,761.6) scale(1.0500,1)" font-size="20.7" text-anchor="start" fill="#000">400</text>
<line x1="81.5" y1="714.05" x2="87.4" y2="714.05" stroke="#BFBFBF" stroke-width="1"/>
<line x1="604.5" y1="714.05" x2="610.5" y2="714.05" stroke="#BFBFBF" stroke-width="1"/>
<text transform="translate(70.5,720.95) scale(1.0900,1)" font-size="20.6" text-anchor="end" fill="#000">1000</text>
<text transform="translate(622.6,720.55) scale(1.0500,1)" font-size="20.7" text-anchor="start" fill="#000">500</text>
<line x1="81.5" y1="673" x2="87.4" y2="673" stroke="#BFBFBF" stroke-width="1"/>
<line x1="604.5" y1="673" x2="610.5" y2="673" stroke="#BFBFBF" stroke-width="1"/>
<text transform="translate(70.5,679.9) scale(1.0900,1)" font-size="20.6" text-anchor="end" fill="#000">1200</text>
<text transform="translate(622.6,679.5) scale(1.0500,1)" font-size="20.7" text-anchor="start" fill="#000">600</text>
<line x1="87.4" y1="919.3" x2="87.4" y2="924.3" stroke="#BFBFBF" stroke-width="1"/>
<text transform="translate(87.4,950.8) scale(1.0500,1)" font-size="20.8" text-anchor="middle" fill="#000">0</text>
<line x1="152.04" y1="919.3" x2="152.04" y2="924.3" stroke="#BFBFBF" stroke-width="1"/>
<text transform="translate(152.04,950.8) scale(1.0500,1)" font-size="20.8" text-anchor="middle" fill="#000">2000</text>
<line x1="216.68" y1="919.3" x2="216.68" y2="924.3" stroke="#BFBFBF" stroke-width="1"/>
<text transform="translate(216.68,950.8) scale(1.0500,1)" font-size="20.8" text-anchor="middle" fill="#000">4000</text>
<line x1="281.31" y1="919.3" x2="281.31" y2="924.3" stroke="#BFBFBF" stroke-width="1"/>
<text transform="translate(281.31,950.8) scale(1.0500,1)" font-size="20.8" text-anchor="middle" fill="#000">6000</text>
<line x1="345.95" y1="919.3" x2="345.95" y2="924.3" stroke="#BFBFBF" stroke-width="1"/>
<text transform="translate(345.95,950.8) scale(1.0500,1)" font-size="20.8" text-anchor="middle" fill="#000">8000</text>
<line x1="410.59" y1="919.3" x2="410.59" y2="924.3" stroke="#BFBFBF" stroke-width="1"/>
<text transform="translate(410.59,950.8) scale(1.0500,1)" font-size="20.8" text-anchor="middle" fill="#000">10000</text>
<line x1="475.23" y1="919.3" x2="475.23" y2="924.3" stroke="#BFBFBF" stroke-width="1"/>
<text transform="translate(475.23,950.8) scale(1.0500,1)" font-size="20.8" text-anchor="middle" fill="#000">12000</text>
<line x1="539.86" y1="919.3" x2="539.86" y2="924.3" stroke="#BFBFBF" stroke-width="1"/>
<text transform="translate(539.86,950.8) scale(1.0500,1)" font-size="20.8" text-anchor="middle" fill="#000">14000</text>
<line x1="604.5" y1="919.3" x2="604.5" y2="924.3" stroke="#BFBFBF" stroke-width="1"/>
<text transform="translate(604.5,950.8) scale(1.0500,1)" font-size="20.8" text-anchor="middle" fill="#000">16000</text>
<text transform="translate(222.8,979) scale(1.0500,1)" font-size="20" text-anchor="start" fill="#000" word-spacing="1.2">Current Ddensity / mA m<tspan font-size="13" dy="-6">-3</tspan></text>
<text transform="translate(16.5,913.5) rotate(-90) scale(1.0900,1)" font-size="20.2" text-anchor="start" fill="#000">Power Density / mW m<tspan font-size="12.2" dy="-6">-3</tspan></text>
<text transform="translate(678.75,852.5) rotate(-90) scale(1.0850,1)" font-size="19.3" text-anchor="start" fill="#000">Voltage / mV</text>
<text transform="translate(13.6,960.5) scale(1.0800,1)" font-size="38.3" text-anchor="start" fill="#000">C</text>
<path d="M88.2,918.1 C88.38,917.52 88.13,917.32 89.3,914.6 C90.47,911.88 93.05,906.47 95.2,901.8 C97.35,897.13 100.45,889.72 102.2,886.6 C103.95,883.48 104.53,884.47 105.7,883.1 C106.87,881.73 108.03,880.15 109.2,878.4 C110.37,876.65 111.15,875.13 112.7,872.6 C114.25,870.07 116.95,865.53 118.5,863.2 C120.05,860.87 120.43,860.55 122,858.6 C123.57,856.65 125.95,854.23 127.9,851.5 C129.85,848.77 131.95,844.72 133.7,842.2 C135.45,839.68 136.83,838.15 138.4,836.4 C139.97,834.65 141.15,834.05 143.1,831.7 C145.05,829.35 147.97,825.03 150.1,822.3 C152.23,819.57 152.6,819.07 155.9,815.3 C159.2,811.53 166,802.62 169.9,799.7 C173.8,796.78 173.27,802.2 179.3,797.8 C185.33,793.4 193.52,787.3 206.1,773.3 C218.68,759.3 239.13,723.08 254.8,713.8 C270.47,704.52 275.03,708.25 300.1,717.6 C325.17,726.95 361.77,747.3 405.2,769.9 C448.63,792.5 534.78,839.32 560.7,853.2" fill="none" stroke="#7030A0" stroke-width="2.3" stroke-linejoin="round" stroke-linecap="round" mask="url(#mPC)"/>
<path d="M84,913.9 L92.4,922.3 M84,922.3 L92.4,913.9" stroke="#A585D5" stroke-width="1.1" fill="none"/>
<path d="M85.1,910.4 L93.5,918.8 M85.1,918.8 L93.5,910.4" stroke="#A585D5" stroke-width="1.1" fill="none"/>
<path d="M91,897.6 L99.4,906 M91,906 L99.4,897.6" stroke="#A585D5" stroke-width="1.1" fill="none"/>
<path d="M98,882.4 L106.4,890.8 M98,890.8 L106.4,882.4" stroke="#A585D5" stroke-width="1.1" fill="none"/>
<path d="M101.5,878.9 L109.9,887.3 M101.5,887.3 L109.9,878.9" stroke="#A585D5" stroke-width="1.1" fill="none"/>
<path d="M105,874.2 L113.4,882.6 M105,882.6 L113.4,874.2" stroke="#A585D5" stroke-width="1.1" fill="none"/>
<path d="M108.5,868.4 L116.9,876.8 M108.5,876.8 L116.9,868.4" stroke="#A585D5" stroke-width="1.1" fill="none"/>
<path d="M114.3,859 L122.7,867.4 M114.3,867.4 L122.7,859" stroke="#A585D5" stroke-width="1.1" fill="none"/>
<path d="M117.8,854.4 L126.2,862.8 M117.8,862.8 L126.2,854.4" stroke="#A585D5" stroke-width="1.1" fill="none"/>
<path d="M123.7,847.3 L132.1,855.7 M123.7,855.7 L132.1,847.3" stroke="#A585D5" stroke-width="1.1" fill="none"/>
<path d="M129.5,838 L137.9,846.4 M129.5,846.4 L137.9,838" stroke="#A585D5" stroke-width="1.1" fill="none"/>
<path d="M134.2,832.2 L142.6,840.6 M134.2,840.6 L142.6,832.2" stroke="#A585D5" stroke-width="1.1" fill="none"/>
<path d="M138.9,827.5 L147.3,835.9 M138.9,835.9 L147.3,827.5" stroke="#A585D5" stroke-width="1.1" fill="none"/>
<path d="M145.9,818.1 L154.3,826.5 M145.9,826.5 L154.3,818.1" stroke="#A585D5" stroke-width="1.1" fill="none"/>
<path d="M151.7,811.1 L160.1,819.5 M151.7,819.5 L160.1,811.1" stroke="#A585D5" stroke-width="1.1" fill="none"/>
<path d="M165.7,795.5 L174.1,803.9 M165.7,803.9 L174.1,795.5" stroke="#A585D5" stroke-width="1.1" fill="none"/>
<path d="M175.1,793.6 L183.5,802 M175.1,802 L183.5,793.6" stroke="#A585D5" stroke-width="1.1" fill="none"/>
<path d="M201.9,769.1 L210.3,777.5 M201.9,777.5 L210.3,769.1" stroke="#A585D5" stroke-width="1.1" fill="none"/>
<path d="M250.6,709.6 L259,718 M250.6,718 L259,709.6" stroke="#A585D5" stroke-width="1.1" fill="none"/>
<path d="M295.9,713.4 L304.3,721.8 M295.9,721.8 L304.3,713.4" stroke="#A585D5" stroke-width="1.1" fill="none"/>
<path d="M401,765.7 L409.4,774.1 M401,774.1 L409.4,765.7" stroke="#A585D5" stroke-width="1.1" fill="none"/>
<path d="M556.5,849 L564.9,857.4 M556.5,857.4 L564.9,849" stroke="#A585D5" stroke-width="1.1" fill="none"/>
<path d="M87.8,708.9 C87.8,709.6 87.67,708.83 87.8,713.1 C87.93,717.37 88.37,727.53 88.6,734.5 C88.83,741.47 88.15,748.75 89.2,754.9 C90.25,761.05 92.65,767.33 94.9,771.4 C97.15,775.47 101.1,776.52 102.7,779.3 C104.3,782.08 103.88,786.28 104.5,788.1 C105.12,789.92 105.82,789.58 106.4,790.2 C106.98,790.82 107.33,791.22 108,791.8 C108.67,792.38 109.62,793 110.4,793.7 C111.18,794.4 111.78,795.35 112.7,796 C113.62,796.65 114.92,796.63 115.9,797.6 C116.88,798.57 117.53,800.57 118.6,801.8 C119.67,803.03 120.98,804.12 122.3,805 C123.62,805.88 124.55,806.22 126.5,807.1 C128.45,807.98 132.05,809.32 134,810.3 C135.95,811.28 136.88,812.28 138.2,813 C139.52,813.72 140,813.63 141.9,814.6 C143.8,815.57 147.07,817.7 149.6,818.8 C152.13,819.9 153.72,820.1 157.1,821.2 C160.48,822.3 166.2,823.45 169.9,825.4 C173.6,827.35 173.27,830.48 179.3,832.9 C185.33,835.32 193.52,838.73 206.1,839.9 C218.68,841.07 239.13,836.83 254.8,839.9 C270.47,842.97 275.03,850.1 300.1,858.3 C325.17,866.5 361.77,880.43 405.2,889.1 C448.63,897.77 534.78,906.77 560.7,910.3" fill="none" stroke="#FF0000" stroke-width="2.4" stroke-linejoin="round" stroke-linecap="round" mask="url(#mRC)"/>
<path d="M83.7,708.9 L91.9,708.9 M87.8,704.8 L87.8,713" stroke="#FF6A6A" stroke-width="1.3" fill="none"/>
<path d="M83.7,713.1 L91.9,713.1 M87.8,709 L87.8,717.2" stroke="#FF6A6A" stroke-width="1.3" fill="none"/>
<path d="M84.5,734.5 L92.7,734.5 M88.6,730.4 L88.6,738.6" stroke="#FF6A6A" stroke-width="1.3" fill="none"/>
<path d="M85.1,754.9 L93.3,754.9 M89.2,750.8 L89.2,759" stroke="#FF6A6A" stroke-width="1.3" fill="none"/>
<path d="M90.8,771.4 L99,771.4 M94.9,767.3 L94.9,775.5" stroke="#FF6A6A" stroke-width="1.3" fill="none"/>
<path d="M98.6,779.3 L106.8,779.3 M102.7,775.2 L102.7,783.4" stroke="#FF6A6A" stroke-width="1.3" fill="none"/>
<path d="M100.4,788.1 L108.6,788.1 M104.5,784 L104.5,792.2" stroke="#FF6A6A" stroke-width="1.3" fill="none"/>
<path d="M102.3,790.2 L110.5,790.2 M106.4,786.1 L106.4,794.3" stroke="#FF6A6A" stroke-width="1.3" fill="none"/>
<path d="M103.9,791.8 L112.1,791.8 M108,787.7 L108,795.9" stroke="#FF6A6A" stroke-width="1.3" fill="none"/>
<path d="M106.3,793.7 L114.5,793.7 M110.4,789.6 L110.4,797.8" stroke="#FF6A6A" stroke-width="1.3" fill="none"/>
<path d="M108.6,796 L116.8,796 M112.7,791.9 L112.7,800.1" stroke="#FF6A6A" stroke-width="1.3" fill="none"/>
<path d="M111.8,797.6 L120,797.6 M115.9,793.5 L115.9,801.7" stroke="#FF6A6A" stroke-width="1.3" fill="none"/>
<path d="M114.5,801.8 L122.7,801.8 M118.6,797.7 L118.6,805.9" stroke="#FF6A6A" stroke-width="1.3" fill="none"/>
<path d="M118.2,805 L126.4,805 M122.3,800.9 L122.3,809.1" stroke="#FF6A6A" stroke-width="1.3" fill="none"/>
<path d="M122.4,807.1 L130.6,807.1 M126.5,803 L126.5,811.2" stroke="#FF6A6A" stroke-width="1.3" fill="none"/>
<path d="M129.9,810.3 L138.1,810.3 M134,806.2 L134,814.4" stroke="#FF6A6A" stroke-width="1.3" fill="none"/>
<path d="M134.1,813 L142.3,813 M138.2,808.9 L138.2,817.1" stroke="#FF6A6A" stroke-width="1.3" fill="none"/>
<path d="M137.8,814.6 L146,814.6 M141.9,810.5 L141.9,818.7" stroke="#FF6A6A" stroke-width="1.3" fill="none"/>
<path d="M145.5,818.8 L153.7,818.8 M149.6,814.7 L149.6,822.9" stroke="#FF6A6A" stroke-width="1.3" fill="none"/>
<path d="M153,821.2 L161.2,821.2 M157.1,817.1 L157.1,825.3" stroke="#FF6A6A" stroke-width="1.3" fill="none"/>
<path d="M165.8,825.4 L174,825.4 M169.9,821.3 L169.9,829.5" stroke="#FF6A6A" stroke-width="1.3" fill="none"/>
<path d="M175.2,832.9 L183.4,832.9 M179.3,828.8 L179.3,837" stroke="#FF6A6A" stroke-width="1.3" fill="none"/>
<path d="M202,839.9 L210.2,839.9 M206.1,835.8 L206.1,844" stroke="#FF6A6A" stroke-width="1.3" fill="none"/>
<path d="M250.7,839.9 L258.9,839.9 M254.8,835.8 L254.8,844" stroke="#FF6A6A" stroke-width="1.3" fill="none"/>
<path d="M296,858.3 L304.2,858.3 M300.1,854.2 L300.1,862.4" stroke="#FF6A6A" stroke-width="1.3" fill="none"/>
<path d="M401.1,889.1 L409.3,889.1 M405.2,885 L405.2,893.2" stroke="#FF6A6A" stroke-width="1.3" fill="none"/>
<path d="M556.6,910.3 L564.8,910.3 M560.7,906.2 L560.7,914.4" stroke="#FF6A6A" stroke-width="1.3" fill="none"/>
<line x1="383.2" y1="718.9" x2="394.6" y2="718.9" stroke="#7030A0" stroke-width="2.3"/>
<line x1="403.2" y1="718.9" x2="414.2" y2="718.9" stroke="#7030A0" stroke-width="2.3"/>
<path d="M394.7,714.7 L403.1,723.1 M394.7,723.1 L403.1,714.7" stroke="#A585D5" stroke-width="1.1" fill="none"/>
<text transform="translate(417.8,725) scale(1.0400,1)" font-size="19.9" text-anchor="start" fill="#000" word-spacing="1.5">Power Density</text>
<line x1="383.2" y1="746.8" x2="394.6" y2="746.8" stroke="#FF0000" stroke-width="2.4"/>
<line x1="403.2" y1="746.8" x2="414.2" y2="746.8" stroke="#FF0000" stroke-width="2.4"/>
<path d="M394.8,746.8 L403,746.8 M398.9,742.7 L398.9,750.9" stroke="#FF6A6A" stroke-width="1.3" fill="none"/>
<text transform="translate(418.7,751.8) scale(1.0900,1)" font-size="19.9" text-anchor="start" fill="#000">Voltage</text>
<line x1="92.6" y1="1262.3" x2="597" y2="1262.3" stroke="#666666" stroke-width="1.8"/>
<line x1="91.8" y1="1016.4" x2="597.8" y2="1016.4" stroke="#363636" stroke-width="1.7"/>
<line x1="597" y1="1016.4" x2="597" y2="1262.3" stroke="#363636" stroke-width="1.6"/>
<line x1="92.6" y1="1016.4" x2="92.6" y2="1262.3" stroke="#363636" stroke-width="1.6"/>
<line x1="86.5" y1="1262.3" x2="92.6" y2="1262.3" stroke="#BFBFBF" stroke-width="1"/>
<text transform="translate(75.9,1268.7) scale(1.2200,1)" font-size="18.5" text-anchor="end" fill="#000">0</text>
<line x1="86.5" y1="1227.17" x2="92.6" y2="1227.17" stroke="#BFBFBF" stroke-width="1"/>
<text transform="translate(75.9,1233.57) scale(1.2200,1)" font-size="18.5" text-anchor="end" fill="#000">100</text>
<line x1="86.5" y1="1192.04" x2="92.6" y2="1192.04" stroke="#BFBFBF" stroke-width="1"/>
<text transform="translate(75.9,1198.44) scale(1.2200,1)" font-size="18.5" text-anchor="end" fill="#000">200</text>
<line x1="86.5" y1="1156.91" x2="92.6" y2="1156.91" stroke="#BFBFBF" stroke-width="1"/>
<text transform="translate(75.9,1163.31) scale(1.2200,1)" font-size="18.5" text-anchor="end" fill="#000">300</text>
<line x1="86.5" y1="1121.79" x2="92.6" y2="1121.79" stroke="#BFBFBF" stroke-width="1"/>
<text transform="translate(75.9,1128.19) scale(1.2200,1)" font-size="18.5" text-anchor="end" fill="#000">400</text>
<line x1="86.5" y1="1086.66" x2="92.6" y2="1086.66" stroke="#BFBFBF" stroke-width="1"/>
<text transform="translate(75.9,1093.06) scale(1.2200,1)" font-size="18.5" text-anchor="end" fill="#000">500</text>
<line x1="86.5" y1="1051.53" x2="92.6" y2="1051.53" stroke="#BFBFBF" stroke-width="1"/>
<text transform="translate(75.9,1057.93) scale(1.2200,1)" font-size="18.5" text-anchor="end" fill="#000">600</text>
<line x1="86.5" y1="1016.4" x2="92.6" y2="1016.4" stroke="#BFBFBF" stroke-width="1"/>
<text transform="translate(75.9,1022.8) scale(1.2200,1)" font-size="18.5" text-anchor="end" fill="#000">700</text>
<line x1="597" y1="1262.3" x2="603" y2="1262.3" stroke="#BFBFBF" stroke-width="1"/>
<text transform="translate(614.5,1268.5) scale(1.2100,1)" font-size="18.2" text-anchor="start" fill="#000">0</text>
<line x1="597" y1="1234.98" x2="603" y2="1234.98" stroke="#BFBFBF" stroke-width="1"/>
<text transform="translate(614.5,1241.18) scale(1.2100,1)" font-size="18.2" text-anchor="start" fill="#000">50</text>
<line x1="597" y1="1207.66" x2="603" y2="1207.66" stroke="#BFBFBF" stroke-width="1"/>
<text transform="translate(614.5,1213.86) scale(1.2100,1)" font-size="18.2" text-anchor="start" fill="#000">100</text>
<line x1="597" y1="1180.33" x2="603" y2="1180.33" stroke="#BFBFBF" stroke-width="1"/>
<text transform="translate(614.5,1186.53) scale(1.2100,1)" font-size="18.2" text-anchor="start" fill="#000">150</text>
<line x1="597" y1="1153.01" x2="603" y2="1153.01" stroke="#BFBFBF" stroke-width="1"/>
<text transform="translate(614.5,1159.21) scale(1.2100,1)" font-size="18.2" text-anchor="start" fill="#000">200</text>
<line x1="597" y1="1125.69" x2="603" y2="1125.69" stroke="#BFBFBF" stroke-width="1"/>
<text transform="translate(614.5,1131.89) scale(1.2100,1)" font-size="18.2" text-anchor="start" fill="#000">250</text>
<line x1="597" y1="1098.37" x2="603" y2="1098.37" stroke="#BFBFBF" stroke-width="1"/>
<text transform="translate(614.5,1104.57) scale(1.2100,1)" font-size="18.2" text-anchor="start" fill="#000">300</text>
<line x1="597" y1="1071.04" x2="603" y2="1071.04" stroke="#BFBFBF" stroke-width="1"/>
<text transform="translate(614.5,1077.24) scale(1.2100,1)" font-size="18.2" text-anchor="start" fill="#000">350</text>
<line x1="597" y1="1043.72" x2="603" y2="1043.72" stroke="#BFBFBF" stroke-width="1"/>
<text transform="translate(614.5,1049.92) scale(1.2100,1)" font-size="18.2" text-anchor="start" fill="#000">400</text>
<line x1="597" y1="1016.4" x2="603" y2="1016.4" stroke="#BFBFBF" stroke-width="1"/>
<text transform="translate(614.5,1022.6) scale(1.2100,1)" font-size="18.2" text-anchor="start" fill="#000">450</text>
<line x1="92.6" y1="1262.3" x2="92.6" y2="1267.3" stroke="#BFBFBF" stroke-width="1"/>
<text transform="translate(92.6,1290) scale(1.2500,1)" font-size="17.6" text-anchor="middle" fill="#000">0</text>
<line x1="193.48" y1="1262.3" x2="193.48" y2="1267.3" stroke="#BFBFBF" stroke-width="1"/>
<text transform="translate(193.48,1290) scale(1.2500,1)" font-size="17.6" text-anchor="middle" fill="#000">2000</text>
<line x1="294.36" y1="1262.3" x2="294.36" y2="1267.3" stroke="#BFBFBF" stroke-width="1"/>
<text transform="translate(294.36,1290) scale(1.2500,1)" font-size="17.6" text-anchor="middle" fill="#000">4000</text>
<line x1="395.24" y1="1262.3" x2="395.24" y2="1267.3" stroke="#BFBFBF" stroke-width="1"/>
<text transform="translate(395.24,1290) scale(1.2500,1)" font-size="17.6" text-anchor="middle" fill="#000">6000</text>
<line x1="496.12" y1="1262.3" x2="496.12" y2="1267.3" stroke="#BFBFBF" stroke-width="1"/>
<text transform="translate(496.12,1290) scale(1.2500,1)" font-size="17.6" text-anchor="middle" fill="#000">8000</text>
<line x1="597" y1="1262.3" x2="597" y2="1267.3" stroke="#BFBFBF" stroke-width="1"/>
<text transform="translate(597,1290) scale(1.2500,1)" font-size="17.6" text-anchor="middle" fill="#000">10000</text>
<text transform="translate(228.8,1314.5) scale(1.1900,1)" font-size="17.7" text-anchor="start" fill="#000" word-spacing="1">Current Density / mA m<tspan font-size="11" dy="-5.2">-3</tspan></text>
<text transform="translate(33.3,1232.9) rotate(-90) scale(0.8600,1)" font-size="21.2" text-anchor="start" fill="#000">Power Density / mW m<tspan font-size="12.7" dy="-6.5">-3</tspan></text>
<text transform="translate(671,1188.75) rotate(-90) scale(0.8660,1)" font-size="20.5" text-anchor="start" fill="#000">Voltage / mV</text>
<text transform="translate(24.6,1312.9) scale(1.0500,1)" font-size="37.3" text-anchor="start" fill="#000">D</text>
<path d="M93.2,1261.1 C93.47,1260.43 93.13,1260.6 94.8,1257.1 C96.47,1253.6 100.23,1246.25 103.2,1240.1 C106.17,1233.95 110.18,1224.98 112.6,1220.2 C115.02,1215.42 116.27,1213.53 117.7,1211.4 C119.13,1209.27 119.83,1209.63 121.2,1207.4 C122.57,1205.17 124.47,1200.33 125.9,1198 C127.33,1195.67 127.85,1196.5 129.8,1193.4 C131.75,1190.3 135.42,1183.1 137.6,1179.4 C139.78,1175.7 141.08,1173.55 142.9,1171.2 C144.72,1168.85 146.28,1167.45 148.5,1165.3 C150.72,1163.15 153.82,1160.63 156.2,1158.3 C158.58,1155.97 160.85,1153.12 162.8,1151.3 C164.75,1149.48 165.37,1150.12 167.9,1147.4 C170.43,1144.68 175,1138.32 178,1135 C181,1131.68 182.32,1130.03 185.9,1127.5 C189.48,1124.97 194.63,1122.92 199.5,1119.8 C204.37,1116.68 208.35,1115.57 215.1,1108.8 C221.85,1102.03 232.65,1087.25 240,1079.2 C247.35,1071.15 255.12,1062.63 259.2,1060.5 C263.28,1058.37 263.1,1061.53 264.5,1066.4 C265.9,1071.27 266.23,1084.85 267.6,1089.7 C268.97,1094.55 268.97,1094.95 272.7,1095.5 C276.43,1096.05 284.17,1093.77 290,1093 C295.83,1092.23 303.03,1090.98 307.7,1090.9 C312.37,1090.82 315.35,1091.53 318,1092.5 C320.65,1093.47 321.8,1094.43 323.6,1096.7 C325.4,1098.97 327.17,1101.03 328.8,1106.1 C330.43,1111.17 331.85,1119.32 333.4,1127.1 C334.95,1134.88 336.53,1145.02 338.1,1152.8 C339.67,1160.58 341.05,1168.35 342.8,1173.8 C344.55,1179.25 346.58,1182.58 348.6,1185.5 C350.62,1188.42 351.2,1188.97 354.9,1191.3 C358.6,1193.63 363.28,1196 370.8,1199.5 C378.32,1203 391.45,1209.18 400,1212.3 C408.55,1215.42 408.88,1214.97 422.1,1218.2 C435.32,1221.43 469.77,1229.45 479.3,1231.7" fill="none" stroke="#7F6000" stroke-width="2.3" stroke-linejoin="round" stroke-linecap="round" mask="url(#mPD)"/>
<path d="M89,1256.9 L97.4,1265.3 M89,1265.3 L97.4,1256.9" stroke="#7489AE" stroke-width="1.1" fill="none"/>
<path d="M90.6,1252.9 L99,1261.3 M90.6,1261.3 L99,1252.9" stroke="#7489AE" stroke-width="1.1" fill="none"/>
<path d="M99,1235.9 L107.4,1244.3 M99,1244.3 L107.4,1235.9" stroke="#7489AE" stroke-width="1.1" fill="none"/>
<path d="M108.4,1216 L116.8,1224.4 M108.4,1224.4 L116.8,1216" stroke="#7489AE" stroke-width="1.1" fill="none"/>
<path d="M113.5,1207.2 L121.9,1215.6 M113.5,1215.6 L121.9,1207.2" stroke="#7489AE" stroke-width="1.1" fill="none"/>
<path d="M117,1203.2 L125.4,1211.6 M117,1211.6 L125.4,1203.2" stroke="#7489AE" stroke-width="1.1" fill="none"/>
<path d="M121.7,1193.8 L130.1,1202.2 M121.7,1202.2 L130.1,1193.8" stroke="#7489AE" stroke-width="1.1" fill="none"/>
<path d="M125.6,1189.2 L134,1197.6 M125.6,1197.6 L134,1189.2" stroke="#7489AE" stroke-width="1.1" fill="none"/>
<path d="M133.4,1175.2 L141.8,1183.6 M133.4,1183.6 L141.8,1175.2" stroke="#7489AE" stroke-width="1.1" fill="none"/>
<path d="M138.7,1167 L147.1,1175.4 M138.7,1175.4 L147.1,1167" stroke="#7489AE" stroke-width="1.1" fill="none"/>
<path d="M144.3,1161.1 L152.7,1169.5 M144.3,1169.5 L152.7,1161.1" stroke="#7489AE" stroke-width="1.1" fill="none"/>
<path d="M152,1154.1 L160.4,1162.5 M152,1162.5 L160.4,1154.1" stroke="#7489AE" stroke-width="1.1" fill="none"/>
<path d="M158.6,1147.1 L167,1155.5 M158.6,1155.5 L167,1147.1" stroke="#7489AE" stroke-width="1.1" fill="none"/>
<path d="M163.7,1143.2 L172.1,1151.6 M163.7,1151.6 L172.1,1143.2" stroke="#7489AE" stroke-width="1.1" fill="none"/>
<path d="M173.8,1130.8 L182.2,1139.2 M173.8,1139.2 L182.2,1130.8" stroke="#7489AE" stroke-width="1.1" fill="none"/>
<path d="M181.7,1123.3 L190.1,1131.7 M181.7,1131.7 L190.1,1123.3" stroke="#7489AE" stroke-width="1.1" fill="none"/>
<path d="M195.3,1115.6 L203.7,1124 M195.3,1124 L203.7,1115.6" stroke="#7489AE" stroke-width="1.1" fill="none"/>
<path d="M210.9,1104.6 L219.3,1113 M210.9,1113 L219.3,1104.6" stroke="#7489AE" stroke-width="1.1" fill="none"/>
<path d="M255,1056.3 L263.4,1064.7 M255,1064.7 L263.4,1056.3" stroke="#7489AE" stroke-width="1.1" fill="none"/>
<path d="M268.5,1091.3 L276.9,1099.7 M268.5,1099.7 L276.9,1091.3" stroke="#7489AE" stroke-width="1.1" fill="none"/>
<path d="M319.4,1092.5 L327.8,1100.9 M319.4,1100.9 L327.8,1092.5" stroke="#7489AE" stroke-width="1.1" fill="none"/>
<path d="M350.7,1187.1 L359.1,1195.5 M350.7,1195.5 L359.1,1187.1" stroke="#7489AE" stroke-width="1.1" fill="none"/>
<path d="M475.1,1227.5 L483.5,1235.9 M475.1,1235.9 L483.5,1227.5" stroke="#7489AE" stroke-width="1.1" fill="none"/>
<path d="M93.2,1027.5 C93.2,1030.23 93.02,1038.45 93.2,1043.9 C93.38,1049.35 94.03,1055.73 94.3,1060.2 C94.57,1064.67 93.43,1065.25 94.8,1070.7 C96.17,1076.15 99.47,1088.3 102.5,1092.9 C105.53,1097.5 110.47,1097.02 113,1098.3 C115.53,1099.58 116.53,1099.82 117.7,1100.6 C118.87,1101.38 118.83,1102.22 120,1103 C121.17,1103.78 123.13,1103.47 124.7,1105.3 C126.27,1107.13 127.13,1111.9 129.4,1114 C131.67,1116.1 136.17,1116.85 138.3,1117.9 C140.43,1118.95 140.57,1119.02 142.2,1120.3 C143.83,1121.58 145.95,1123.27 148.1,1125.6 C150.25,1127.93 152.77,1132.23 155.1,1134.3 C157.43,1136.37 159.97,1136.92 162.1,1138 C164.23,1139.08 165.37,1139.55 167.9,1140.8 C170.43,1142.05 174.27,1144.1 177.3,1145.5 C180.33,1146.9 182.4,1147.07 186.1,1149.2 C189.8,1151.33 194.82,1155.92 199.5,1158.3 C204.18,1160.68 207.45,1162.47 214.2,1163.5 C220.95,1164.53 232.5,1163.83 240,1164.5 C247.5,1165.17 255.12,1165.57 259.2,1167.5 C263.28,1169.43 262.33,1172.4 264.5,1176.1 C266.67,1179.8 266.55,1186.18 272.2,1189.7 C277.85,1193.22 289.87,1194.4 298.4,1197.2 C306.93,1200 318.47,1203.95 323.4,1206.5 C328.33,1209.05 326.33,1209.77 328,1212.5 C329.67,1215.23 331.73,1219.73 333.4,1222.9 C335.07,1226.07 336.43,1229.17 338,1231.5 C339.57,1233.83 341.13,1235.48 342.8,1236.9 C344.47,1238.32 345.98,1239.15 348,1240 C350.02,1240.85 346.23,1240.5 354.9,1242 C363.57,1243.5 379.27,1246.7 400,1249 C420.73,1251.3 466.08,1254.67 479.3,1255.8" fill="none" stroke="#C55A11" stroke-width="2.3" stroke-linejoin="round" stroke-linecap="round" mask="url(#mVD)"/>
<path d="M89.1,1027.5 L97.3,1027.5 M93.2,1023.4 L93.2,1031.6" stroke="#E8A070" stroke-width="1.3" fill="none"/>
<path d="M89.1,1043.9 L97.3,1043.9 M93.2,1039.8 L93.2,1048" stroke="#E8A070" stroke-width="1.3" fill="none"/>
<path d="M90.2,1060.2 L98.4,1060.2 M94.3,1056.1 L94.3,1064.3" stroke="#E8A070" stroke-width="1.3" fill="none"/>
<path d="M90.7,1070.7 L98.9,1070.7 M94.8,1066.6 L94.8,1074.8" stroke="#E8A070" stroke-width="1.3" fill="none"/>
<path d="M98.4,1092.9 L106.6,1092.9 M102.5,1088.8 L102.5,1097" stroke="#E8A070" stroke-width="1.3" fill="none"/>
<path d="M108.9,1098.3 L117.1,1098.3 M113,1094.2 L113,1102.4" stroke="#E8A070" stroke-width="1.3" fill="none"/>
<path d="M113.6,1100.6 L121.8,1100.6 M117.7,1096.5 L117.7,1104.7" stroke="#E8A070" stroke-width="1.3" fill="none"/>
<path d="M115.9,1103 L124.1,1103 M120,1098.9 L120,1107.1" stroke="#E8A070" stroke-width="1.3" fill="none"/>
<path d="M120.6,1105.3 L128.8,1105.3 M124.7,1101.2 L124.7,1109.4" stroke="#E8A070" stroke-width="1.3" fill="none"/>
<path d="M125.3,1114 L133.5,1114 M129.4,1109.9 L129.4,1118.1" stroke="#E8A070" stroke-width="1.3" fill="none"/>
<path d="M134.2,1117.9 L142.4,1117.9 M138.3,1113.8 L138.3,1122" stroke="#E8A070" stroke-width="1.3" fill="none"/>
<path d="M138.1,1120.3 L146.3,1120.3 M142.2,1116.2 L142.2,1124.4" stroke="#E8A070" stroke-width="1.3" fill="none"/>
<path d="M144,1125.6 L152.2,1125.6 M148.1,1121.5 L148.1,1129.7" stroke="#E8A070" stroke-width="1.3" fill="none"/>
<path d="M151,1134.3 L159.2,1134.3 M155.1,1130.2 L155.1,1138.4" stroke="#E8A070" stroke-width="1.3" fill="none"/>
<path d="M158,1138 L166.2,1138 M162.1,1133.9 L162.1,1142.1" stroke="#E8A070" stroke-width="1.3" fill="none"/>
<path d="M163.8,1140.8 L172,1140.8 M167.9,1136.7 L167.9,1144.9" stroke="#E8A070" stroke-width="1.3" fill="none"/>
<path d="M173.2,1145.5 L181.4,1145.5 M177.3,1141.4 L177.3,1149.6" stroke="#E8A070" stroke-width="1.3" fill="none"/>
<path d="M182,1149.2 L190.2,1149.2 M186.1,1145.1 L186.1,1153.3" stroke="#E8A070" stroke-width="1.3" fill="none"/>
<path d="M195.4,1158.3 L203.6,1158.3 M199.5,1154.2 L199.5,1162.4" stroke="#E8A070" stroke-width="1.3" fill="none"/>
<path d="M210.1,1163.5 L218.3,1163.5 M214.2,1159.4 L214.2,1167.6" stroke="#E8A070" stroke-width="1.3" fill="none"/>
<path d="M255.1,1167.5 L263.3,1167.5 M259.2,1163.4 L259.2,1171.6" stroke="#E8A070" stroke-width="1.3" fill="none"/>
<path d="M268.1,1189.7 L276.3,1189.7 M272.2,1185.6 L272.2,1193.8" stroke="#E8A070" stroke-width="1.3" fill="none"/>
<path d="M319.3,1206.5 L327.5,1206.5 M323.4,1202.4 L323.4,1210.6" stroke="#E8A070" stroke-width="1.3" fill="none"/>
<path d="M350.8,1242 L359,1242 M354.9,1237.9 L354.9,1246.1" stroke="#E8A070" stroke-width="1.3" fill="none"/>
<path d="M475.2,1255.8 L483.4,1255.8 M479.3,1251.7 L479.3,1259.9" stroke="#E8A070" stroke-width="1.3" fill="none"/>
<line x1="403.3" y1="1051.4" x2="415.2" y2="1051.4" stroke="#7F6000" stroke-width="2.3"/>
<line x1="423.8" y1="1051.4" x2="434.3" y2="1051.4" stroke="#7F6000" stroke-width="2.3"/>
<path d="M415.3,1047.2 L423.7,1055.6 M415.3,1055.6 L423.7,1047.2" stroke="#7489AE" stroke-width="1.1" fill="none"/>
<text transform="translate(437.9,1057.6) scale(1.1500,1)" font-size="17.9" text-anchor="start" fill="#000" word-spacing="2.5">Power Density</text>
<line x1="403.3" y1="1079" x2="414.7" y2="1079" stroke="#C55A11" stroke-width="2.3"/>
<line x1="423.3" y1="1079" x2="434.3" y2="1079" stroke="#C55A11" stroke-width="2.3"/>
<path d="M414.9,1079 L423.1,1079 M419,1074.9 L419,1083.1" stroke="#E8A070" stroke-width="1.3" fill="none"/>
<text transform="translate(437.9,1085) scale(1.2000,1)" font-size="17.9" text-anchor="start" fill="#000">Voltage</text>
</svg>
</body></html>
